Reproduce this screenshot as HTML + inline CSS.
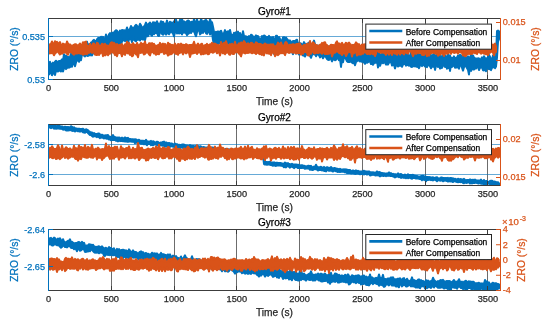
<!DOCTYPE html>
<html><head><meta charset="utf-8"><title>Gyro ZRO</title>
<style>html,body{margin:0;padding:0;background:#fff}svg{display:block}text{font-family:"Liberation Sans",sans-serif;stroke-width:0.25px}.k{fill:#262626;stroke:#262626}.b{fill:#0072BD;stroke:#0072BD}.o{fill:#D95319;stroke:#D95319}.z{fill:#000;stroke:#000}</style></head>
<body>
<svg width="550" height="326" viewBox="0 0 550 326">
<rect width="550" height="326" fill="#fff"/>
<g>
<clipPath id="c1"><rect x="49.0" y="18.5" width="451.0" height="61.0"/></clipPath>
<line x1="111.5" y1="18.5" x2="111.5" y2="79.5" stroke="#6c6c6c" stroke-width="1"/>
<line x1="174.5" y1="18.5" x2="174.5" y2="79.5" stroke="#6c6c6c" stroke-width="1"/>
<line x1="236.5" y1="18.5" x2="236.5" y2="79.5" stroke="#6c6c6c" stroke-width="1"/>
<line x1="299.5" y1="18.5" x2="299.5" y2="79.5" stroke="#6c6c6c" stroke-width="1"/>
<line x1="362.5" y1="18.5" x2="362.5" y2="79.5" stroke="#6c6c6c" stroke-width="1"/>
<line x1="425.5" y1="18.5" x2="425.5" y2="79.5" stroke="#6c6c6c" stroke-width="1"/>
<line x1="487.5" y1="18.5" x2="487.5" y2="79.5" stroke="#6c6c6c" stroke-width="1"/>
<line x1="48.5" y1="36.5" x2="500.5" y2="36.5" stroke="#0072BD" stroke-opacity="0.6" stroke-width="1"/>
<path d="M49.00,67.1 L50.00,61.8 L51.00,64.2 L52.00,65.2 L53.00,62.6 L54.00,65.1 L55.00,61.7 L56.00,60.7 L57.00,61.7 L58.00,62.1 L59.00,60.9 L60.00,61.1 L61.00,60.6 L62.00,59.4 L63.00,60.8 L64.00,54.2 L65.00,59.6 L66.00,55.5 L67.00,57.5 L68.00,56.8 L69.00,57.4 L70.00,56.8 L71.00,53.8 L72.00,54.5 L73.00,53.2 L74.00,52.6 L75.00,53.0 L76.00,52.8 L77.00,51.8 L78.00,50.4 L79.00,50.7 L80.00,46.0 L81.00,50.8 L82.00,46.5 L83.00,47.6 L84.00,43.8 L85.00,46.9 L86.00,45.0 L87.00,41.8 L88.00,46.4 L89.00,44.2 L90.00,45.8 L91.00,42.6 L92.00,42.7 L93.00,40.5 L94.00,39.9 L95.00,40.9 L96.00,42.5 L97.00,39.4 L98.00,38.0 L99.00,38.0 L100.00,38.3 L101.00,36.7 L102.00,39.2 L103.00,36.8 L104.00,39.4 L105.00,39.3 L106.00,34.5 L107.00,37.0 L108.00,38.8 L109.00,34.3 L110.00,33.1 L111.00,36.8 L112.00,32.8 L113.00,32.7 L114.00,32.5 L115.00,31.2 L116.00,30.3 L117.00,30.7 L118.00,32.5 L119.00,33.8 L120.00,30.4 L121.00,33.8 L122.00,29.9 L123.00,30.4 L124.00,30.2 L125.00,30.7 L126.00,30.5 L127.00,27.5 L128.00,31.2 L129.00,29.8 L130.00,28.9 L131.00,26.0 L132.00,28.6 L133.00,27.5 L134.00,29.0 L135.00,26.0 L136.00,24.8 L137.00,25.7 L138.00,28.7 L139.00,26.7 L140.00,23.7 L141.00,25.3 L142.00,28.1 L143.00,27.4 L144.00,26.6 L145.00,25.0 L146.00,22.6 L147.00,26.5 L148.00,24.2 L149.00,23.5 L150.00,22.5 L151.00,25.8 L152.00,24.2 L153.00,22.2 L154.00,22.6 L155.00,22.4 L156.00,24.6 L157.00,21.3 L158.00,23.7 L159.00,24.3 L160.00,23.8 L161.00,21.2 L162.00,23.5 L163.00,21.8 L164.00,23.8 L165.00,24.6 L166.00,23.9 L167.00,20.6 L168.00,24.7 L169.00,24.4 L170.00,21.7 L171.00,22.5 L172.00,22.6 L173.00,23.8 L174.00,21.4 L175.00,22.0 L176.00,19.6 L177.00,23.7 L178.00,22.4 L179.00,23.3 L180.00,19.8 L181.00,22.8 L182.00,19.0 L183.00,22.6 L184.00,21.3 L185.00,22.4 L186.00,22.2 L187.00,21.1 L188.00,20.5 L189.00,20.9 L190.00,23.6 L191.00,21.9 L192.00,21.7 L193.00,23.8 L194.00,19.0 L195.00,24.4 L196.00,22.6 L197.00,19.0 L198.00,23.7 L199.00,21.7 L200.00,23.6 L201.00,19.0 L202.00,20.8 L203.00,22.2 L204.00,21.0 L205.00,20.3 L206.00,19.8 L207.00,21.2 L208.00,22.5 L209.00,24.4 L210.00,19.0 L211.00,22.1 L212.00,22.2 L213.00,26.7 L214.00,32.0 L215.00,32.7 L216.00,31.7 L217.00,32.7 L218.00,31.4 L219.00,33.1 L220.00,31.5 L221.00,30.7 L222.00,33.3 L223.00,34.3 L224.00,33.1 L225.00,30.1 L226.00,33.1 L227.00,32.1 L228.00,31.2 L229.00,32.3 L230.00,30.0 L231.00,34.3 L232.00,35.2 L233.00,35.9 L234.00,32.7 L235.00,35.0 L236.00,32.2 L237.00,34.0 L238.00,31.6 L239.00,36.1 L240.00,33.0 L241.00,35.5 L242.00,36.7 L243.00,31.2 L244.00,36.2 L245.00,36.2 L246.00,36.3 L247.00,37.8 L248.00,36.8 L249.00,36.1 L250.00,37.9 L251.00,34.7 L252.00,35.2 L253.00,37.3 L254.00,36.6 L255.00,37.6 L256.00,35.4 L257.00,36.3 L258.00,36.1 L259.00,38.2 L260.00,38.6 L261.00,39.2 L262.00,36.0 L263.00,39.3 L264.00,35.5 L265.00,36.0 L266.00,40.0 L267.00,36.9 L268.00,37.7 L269.00,35.9 L270.00,38.5 L271.00,37.2 L272.00,39.2 L273.00,37.0 L274.00,40.6 L275.00,39.2 L276.00,35.8 L277.00,35.8 L278.00,40.3 L279.00,37.0 L280.00,39.0 L281.00,41.5 L282.00,40.5 L283.00,37.5 L284.00,37.1 L285.00,41.5 L286.00,37.5 L287.00,39.1 L288.00,40.0 L289.00,40.6 L290.00,40.4 L291.00,42.0 L292.00,43.4 L293.00,41.0 L294.00,41.0 L295.00,41.1 L296.00,40.1 L297.00,39.7 L298.00,43.2 L299.00,43.2 L300.00,43.2 L301.00,43.4 L302.00,45.4 L303.00,44.6 L304.00,42.1 L305.00,44.0 L306.00,44.2 L307.00,44.7 L308.00,43.3 L309.00,42.6 L310.00,42.3 L311.00,45.6 L312.00,45.3 L313.00,43.3 L314.00,40.6 L315.00,44.3 L316.00,46.6 L317.00,45.4 L318.00,45.4 L319.00,47.8 L320.00,49.2 L321.00,46.4 L322.00,48.0 L323.00,45.8 L324.00,47.4 L325.00,45.9 L326.00,46.9 L327.00,49.5 L328.00,46.2 L329.00,47.6 L330.00,47.1 L331.00,45.5 L332.00,47.0 L333.00,46.1 L334.00,47.3 L335.00,47.6 L336.00,49.8 L337.00,46.4 L338.00,47.6 L339.00,49.7 L340.00,49.9 L341.00,49.3 L342.00,49.7 L343.00,49.7 L344.00,48.2 L345.00,50.3 L346.00,48.5 L347.00,50.5 L348.00,49.4 L349.00,49.4 L350.00,52.5 L351.00,47.9 L352.00,50.6 L353.00,45.1 L354.00,51.6 L355.00,53.5 L356.00,46.4 L357.00,50.0 L358.00,52.7 L359.00,49.3 L360.00,48.2 L361.00,54.0 L362.00,52.4 L363.00,52.3 L364.00,52.0 L365.00,53.7 L366.00,51.8 L367.00,54.3 L368.00,50.3 L369.00,52.7 L370.00,50.6 L371.00,52.4 L372.00,53.1 L373.00,51.6 L374.00,53.7 L375.00,51.3 L376.00,55.0 L377.00,48.1 L378.00,51.7 L379.00,53.6 L380.00,54.9 L381.00,54.2 L382.00,54.0 L383.00,50.5 L384.00,52.7 L385.00,53.7 L386.00,52.6 L387.00,52.7 L388.00,52.7 L389.00,51.9 L390.00,52.8 L391.00,53.1 L392.00,51.8 L393.00,49.7 L394.00,50.8 L395.00,55.1 L396.00,54.8 L397.00,53.7 L398.00,52.7 L399.00,55.4 L400.00,53.0 L401.00,52.9 L402.00,58.1 L403.00,53.2 L404.00,54.1 L405.00,54.1 L406.00,51.8 L407.00,56.1 L408.00,54.7 L409.00,57.4 L410.00,55.8 L411.00,52.3 L412.00,55.5 L413.00,53.2 L414.00,54.2 L415.00,54.3 L416.00,54.0 L417.00,56.6 L418.00,50.6 L419.00,54.8 L420.00,55.6 L421.00,54.7 L422.00,55.3 L423.00,53.6 L424.00,50.0 L425.00,55.7 L426.00,56.4 L427.00,56.2 L428.00,55.8 L429.00,55.8 L430.00,53.4 L431.00,55.3 L432.00,58.0 L433.00,54.8 L434.00,53.8 L435.00,57.2 L436.00,57.3 L437.00,52.2 L438.00,55.1 L439.00,57.4 L440.00,54.2 L441.00,56.5 L442.00,56.5 L443.00,55.8 L444.00,53.8 L445.00,55.7 L446.00,56.3 L447.00,58.7 L448.00,54.2 L449.00,55.7 L450.00,55.5 L451.00,58.0 L452.00,58.1 L453.00,58.2 L454.00,56.3 L455.00,59.2 L456.00,57.8 L457.00,57.9 L458.00,55.5 L459.00,56.6 L460.00,54.7 L461.00,57.1 L462.00,55.4 L463.00,58.1 L464.00,52.6 L465.00,54.8 L466.00,59.5 L467.00,57.9 L468.00,56.4 L469.00,57.4 L470.00,57.7 L471.00,54.7 L472.00,58.8 L473.00,55.5 L474.00,57.7 L475.00,58.2 L476.00,58.4 L477.00,59.2 L478.00,58.2 L479.00,58.4 L480.00,59.9 L481.00,59.3 L482.00,57.3 L483.00,60.0 L484.00,56.2 L485.00,58.1 L486.00,59.4 L487.00,58.2 L488.00,57.2 L489.00,54.9 L490.00,56.8 L491.00,59.4 L492.00,59.9 L493.00,55.5 L494.00,57.7 L495.00,56.9 L496.00,56.9 L497.00,31.2 L498.00,30.6 L499.00,31.3 L499.00,39.2 L498.00,41.6 L497.00,57.4 L496.00,66.4 L495.00,68.2 L494.00,65.6 L493.00,67.4 L492.00,67.6 L491.00,70.1 L490.00,67.2 L489.00,69.2 L488.00,67.3 L487.00,67.6 L486.00,71.3 L485.00,68.1 L484.00,70.4 L483.00,70.3 L482.00,67.2 L481.00,67.5 L480.00,67.9 L479.00,70.0 L478.00,67.1 L477.00,66.5 L476.00,68.5 L475.00,68.6 L474.00,69.5 L473.00,69.4 L472.00,67.0 L471.00,70.9 L470.00,64.8 L469.00,74.5 L468.00,69.7 L467.00,68.1 L466.00,66.4 L465.00,63.9 L464.00,67.3 L463.00,70.6 L462.00,67.7 L461.00,65.0 L460.00,64.0 L459.00,68.7 L458.00,66.4 L457.00,67.5 L456.00,67.6 L455.00,67.7 L454.00,65.0 L453.00,65.6 L452.00,67.0 L451.00,65.1 L450.00,70.9 L449.00,64.7 L448.00,68.2 L447.00,68.7 L446.00,65.3 L445.00,66.9 L444.00,64.5 L443.00,65.5 L442.00,67.8 L441.00,68.0 L440.00,68.5 L439.00,62.9 L438.00,67.0 L437.00,63.0 L436.00,66.0 L435.00,69.9 L434.00,63.7 L433.00,66.7 L432.00,66.2 L431.00,68.3 L430.00,66.4 L429.00,64.4 L428.00,65.0 L427.00,67.2 L426.00,65.3 L425.00,66.5 L424.00,64.8 L423.00,65.0 L422.00,66.1 L421.00,63.8 L420.00,65.5 L419.00,68.2 L418.00,66.3 L417.00,67.0 L416.00,64.1 L415.00,66.5 L414.00,65.8 L413.00,66.3 L412.00,66.9 L411.00,66.7 L410.00,64.1 L409.00,65.8 L408.00,65.1 L407.00,64.3 L406.00,65.7 L405.00,62.8 L404.00,64.3 L403.00,64.3 L402.00,66.8 L401.00,61.6 L400.00,66.0 L399.00,64.4 L398.00,66.5 L397.00,64.7 L396.00,65.1 L395.00,68.4 L394.00,64.8 L393.00,64.5 L392.00,65.6 L391.00,61.4 L390.00,62.1 L389.00,62.7 L388.00,64.5 L387.00,64.5 L386.00,64.5 L385.00,62.5 L384.00,62.3 L383.00,63.3 L382.00,62.1 L381.00,63.1 L380.00,65.8 L379.00,64.3 L378.00,67.5 L377.00,60.5 L376.00,62.8 L375.00,62.6 L374.00,63.3 L373.00,64.8 L372.00,63.8 L371.00,64.1 L370.00,61.4 L369.00,61.5 L368.00,62.2 L367.00,62.8 L366.00,61.8 L365.00,63.8 L364.00,62.4 L363.00,59.0 L362.00,61.9 L361.00,60.6 L360.00,61.5 L359.00,60.6 L358.00,60.6 L357.00,61.1 L356.00,61.9 L355.00,65.2 L354.00,61.5 L353.00,63.3 L352.00,62.6 L351.00,60.6 L350.00,61.9 L349.00,62.1 L348.00,62.1 L347.00,61.2 L346.00,59.1 L345.00,57.5 L344.00,57.0 L343.00,62.3 L342.00,59.1 L341.00,66.9 L340.00,58.9 L339.00,60.3 L338.00,58.1 L337.00,58.1 L336.00,59.8 L335.00,60.2 L334.00,59.5 L333.00,59.3 L332.00,61.4 L331.00,59.0 L330.00,56.1 L329.00,60.0 L328.00,59.8 L327.00,58.9 L326.00,57.3 L325.00,55.6 L324.00,56.6 L323.00,58.3 L322.00,55.9 L321.00,56.1 L320.00,57.4 L319.00,55.4 L318.00,53.2 L317.00,54.7 L316.00,56.2 L315.00,53.5 L314.00,54.4 L313.00,53.2 L312.00,55.0 L311.00,57.8 L310.00,56.0 L309.00,52.6 L308.00,54.7 L307.00,54.6 L306.00,54.3 L305.00,56.5 L304.00,55.5 L303.00,55.5 L302.00,50.8 L301.00,52.8 L300.00,51.4 L299.00,54.6 L298.00,52.7 L297.00,51.4 L296.00,53.6 L295.00,51.6 L294.00,50.5 L293.00,54.3 L292.00,52.0 L291.00,50.4 L290.00,52.4 L289.00,52.0 L288.00,50.9 L287.00,50.5 L286.00,48.8 L285.00,51.1 L284.00,52.4 L283.00,48.5 L282.00,52.2 L281.00,50.5 L280.00,53.0 L279.00,51.3 L278.00,51.0 L277.00,47.6 L276.00,49.5 L275.00,46.5 L274.00,53.9 L273.00,46.6 L272.00,48.1 L271.00,45.8 L270.00,47.4 L269.00,49.1 L268.00,46.0 L267.00,46.3 L266.00,48.4 L265.00,48.1 L264.00,47.9 L263.00,48.8 L262.00,47.4 L261.00,45.8 L260.00,49.0 L259.00,49.3 L258.00,48.2 L257.00,45.5 L256.00,47.3 L255.00,46.3 L254.00,47.0 L253.00,45.9 L252.00,44.7 L251.00,45.0 L250.00,48.5 L249.00,48.5 L248.00,46.4 L247.00,47.3 L246.00,43.8 L245.00,48.1 L244.00,46.9 L243.00,46.1 L242.00,50.0 L241.00,46.5 L240.00,46.1 L239.00,45.4 L238.00,46.5 L237.00,45.5 L236.00,41.3 L235.00,45.2 L234.00,45.7 L233.00,42.9 L232.00,45.2 L231.00,43.3 L230.00,46.4 L229.00,43.8 L228.00,43.6 L227.00,42.5 L226.00,46.6 L225.00,43.1 L224.00,43.4 L223.00,43.5 L222.00,42.8 L221.00,41.4 L220.00,42.1 L219.00,43.7 L218.00,44.0 L217.00,40.2 L216.00,46.9 L215.00,41.6 L214.00,44.9 L213.00,40.0 L212.00,32.5 L211.00,32.1 L210.00,34.5 L209.00,31.7 L208.00,30.4 L207.00,33.9 L206.00,33.1 L205.00,30.9 L204.00,30.2 L203.00,32.9 L202.00,32.5 L201.00,33.3 L200.00,34.4 L199.00,29.5 L198.00,29.7 L197.00,32.2 L196.00,36.3 L195.00,34.0 L194.00,30.9 L193.00,31.5 L192.00,30.9 L191.00,33.0 L190.00,31.7 L189.00,33.3 L188.00,33.8 L187.00,35.1 L186.00,33.2 L185.00,31.5 L184.00,32.8 L183.00,31.5 L182.00,34.4 L181.00,30.8 L180.00,33.2 L179.00,33.4 L178.00,32.8 L177.00,33.4 L176.00,31.3 L175.00,32.6 L174.00,36.3 L173.00,33.5 L172.00,32.3 L171.00,31.1 L170.00,32.4 L169.00,34.2 L168.00,33.4 L167.00,32.3 L166.00,34.6 L165.00,33.4 L164.00,32.9 L163.00,34.7 L162.00,33.9 L161.00,31.4 L160.00,32.3 L159.00,36.0 L158.00,35.6 L157.00,31.2 L156.00,33.2 L155.00,32.4 L154.00,34.2 L153.00,31.7 L152.00,35.7 L151.00,34.8 L150.00,33.1 L149.00,34.0 L148.00,36.2 L147.00,36.2 L146.00,35.8 L145.00,40.2 L144.00,37.1 L143.00,39.6 L142.00,39.1 L141.00,38.6 L140.00,40.5 L139.00,37.5 L138.00,39.9 L137.00,38.8 L136.00,41.4 L135.00,40.7 L134.00,39.8 L133.00,36.2 L132.00,42.1 L131.00,38.8 L130.00,39.3 L129.00,39.1 L128.00,43.7 L127.00,41.2 L126.00,39.5 L125.00,41.1 L124.00,40.2 L123.00,39.6 L122.00,41.7 L121.00,44.0 L120.00,44.8 L119.00,41.3 L118.00,44.8 L117.00,44.3 L116.00,43.9 L115.00,42.1 L114.00,46.2 L113.00,44.3 L112.00,45.3 L111.00,46.2 L110.00,43.3 L109.00,47.5 L108.00,44.1 L107.00,45.0 L106.00,45.9 L105.00,49.6 L104.00,48.7 L103.00,50.3 L102.00,47.3 L101.00,46.0 L100.00,51.3 L99.00,48.0 L98.00,49.2 L97.00,50.4 L96.00,53.2 L95.00,52.5 L94.00,53.2 L93.00,52.9 L92.00,55.5 L91.00,49.7 L90.00,55.4 L89.00,52.3 L88.00,55.9 L87.00,55.7 L86.00,54.0 L85.00,56.5 L84.00,55.7 L83.00,54.5 L82.00,54.3 L81.00,60.2 L80.00,59.1 L79.00,61.8 L78.00,60.1 L77.00,60.2 L76.00,62.4 L75.00,66.2 L74.00,62.7 L73.00,62.9 L72.00,66.8 L71.00,65.9 L70.00,67.1 L69.00,67.7 L68.00,67.0 L67.00,68.1 L66.00,69.1 L65.00,67.4 L64.00,68.1 L63.00,71.5 L62.00,68.4 L61.00,71.5 L60.00,70.4 L59.00,70.7 L58.00,71.5 L57.00,71.2 L56.00,70.6 L55.00,75.0 L54.00,72.1 L53.00,73.1 L52.00,75.2 L51.00,73.1 L50.00,70.6 L49.00,74.4Z" fill="#0072BD" stroke="#0072BD" stroke-width="2" stroke-linejoin="round" clip-path="url(#c1)"/>
<path d="M49.00,44.4 L50.00,44.8 L51.00,43.8 L52.00,41.5 L53.00,44.1 L54.00,44.0 L55.00,41.2 L56.00,42.5 L57.00,41.9 L58.00,43.2 L59.00,43.9 L60.00,42.1 L61.00,44.8 L62.00,46.9 L63.00,43.6 L64.00,44.3 L65.00,44.3 L66.00,45.5 L67.00,41.5 L68.00,43.6 L69.00,45.0 L70.00,44.4 L71.00,46.1 L72.00,45.4 L73.00,46.1 L74.00,44.6 L75.00,44.3 L76.00,44.3 L77.00,45.0 L78.00,47.4 L79.00,44.6 L80.00,43.5 L81.00,46.5 L82.00,44.8 L83.00,42.2 L84.00,43.6 L85.00,42.0 L86.00,41.6 L87.00,46.3 L88.00,45.8 L89.00,47.2 L90.00,43.8 L91.00,47.2 L92.00,46.4 L93.00,43.6 L94.00,43.5 L95.00,45.6 L96.00,46.4 L97.00,42.7 L98.00,43.4 L99.00,45.8 L100.00,45.8 L101.00,45.7 L102.00,43.7 L103.00,44.6 L104.00,44.6 L105.00,43.9 L106.00,46.2 L107.00,45.4 L108.00,45.7 L109.00,46.4 L110.00,44.4 L111.00,42.6 L112.00,42.3 L113.00,45.0 L114.00,42.9 L115.00,44.4 L116.00,44.7 L117.00,44.1 L118.00,45.7 L119.00,45.1 L120.00,44.8 L121.00,44.8 L122.00,44.0 L123.00,46.3 L124.00,48.0 L125.00,44.3 L126.00,45.0 L127.00,41.8 L128.00,45.5 L129.00,42.9 L130.00,44.7 L131.00,45.6 L132.00,44.3 L133.00,43.1 L134.00,44.6 L135.00,44.9 L136.00,45.8 L137.00,43.0 L138.00,45.2 L139.00,45.3 L140.00,44.6 L141.00,42.9 L142.00,44.5 L143.00,43.7 L144.00,44.5 L145.00,41.5 L146.00,46.4 L147.00,44.9 L148.00,45.6 L149.00,43.3 L150.00,43.2 L151.00,44.3 L152.00,43.0 L153.00,44.4 L154.00,43.8 L155.00,46.1 L156.00,45.6 L157.00,46.9 L158.00,45.0 L159.00,45.3 L160.00,42.9 L161.00,45.5 L162.00,44.4 L163.00,43.6 L164.00,46.2 L165.00,43.8 L166.00,47.2 L167.00,45.7 L168.00,42.7 L169.00,44.0 L170.00,44.1 L171.00,46.4 L172.00,44.8 L173.00,45.8 L174.00,45.3 L175.00,43.6 L176.00,47.3 L177.00,45.8 L178.00,44.1 L179.00,44.2 L180.00,45.5 L181.00,43.6 L182.00,44.8 L183.00,44.8 L184.00,44.9 L185.00,45.2 L186.00,44.1 L187.00,44.6 L188.00,47.1 L189.00,45.0 L190.00,45.0 L191.00,45.4 L192.00,44.7 L193.00,44.7 L194.00,41.7 L195.00,45.2 L196.00,45.6 L197.00,45.0 L198.00,43.5 L199.00,45.3 L200.00,46.7 L201.00,44.2 L202.00,43.7 L203.00,45.9 L204.00,47.0 L205.00,45.1 L206.00,45.4 L207.00,43.8 L208.00,46.0 L209.00,45.0 L210.00,44.3 L211.00,44.6 L212.00,42.7 L213.00,46.1 L214.00,43.5 L215.00,43.8 L216.00,44.2 L217.00,46.4 L218.00,44.9 L219.00,45.7 L220.00,47.1 L221.00,41.9 L222.00,46.1 L223.00,44.2 L224.00,42.7 L225.00,46.1 L226.00,41.2 L227.00,44.3 L228.00,45.2 L229.00,45.9 L230.00,44.1 L231.00,45.4 L232.00,43.7 L233.00,45.2 L234.00,45.7 L235.00,41.8 L236.00,46.2 L237.00,45.6 L238.00,44.8 L239.00,43.2 L240.00,45.3 L241.00,42.4 L242.00,42.4 L243.00,45.4 L244.00,41.1 L245.00,42.6 L246.00,45.4 L247.00,43.9 L248.00,43.3 L249.00,44.1 L250.00,46.2 L251.00,42.7 L252.00,42.9 L253.00,44.2 L254.00,45.0 L255.00,44.5 L256.00,42.4 L257.00,42.9 L258.00,44.6 L259.00,44.0 L260.00,43.9 L261.00,44.3 L262.00,44.9 L263.00,45.6 L264.00,44.4 L265.00,43.5 L266.00,44.5 L267.00,44.4 L268.00,46.6 L269.00,44.6 L270.00,45.2 L271.00,44.2 L272.00,46.8 L273.00,44.2 L274.00,46.3 L275.00,46.3 L276.00,46.3 L277.00,45.3 L278.00,42.6 L279.00,43.6 L280.00,46.0 L281.00,42.4 L282.00,45.3 L283.00,46.0 L284.00,46.0 L285.00,43.2 L286.00,42.0 L287.00,43.4 L288.00,46.3 L289.00,45.2 L290.00,44.7 L291.00,44.7 L292.00,44.7 L293.00,44.3 L294.00,44.5 L295.00,46.1 L296.00,44.3 L297.00,44.1 L298.00,43.9 L299.00,43.5 L300.00,43.8 L301.00,46.0 L302.00,46.6 L303.00,46.0 L304.00,44.9 L305.00,44.8 L306.00,47.3 L307.00,43.7 L308.00,46.0 L309.00,44.6 L310.00,40.9 L311.00,47.5 L312.00,43.8 L313.00,42.3 L314.00,43.3 L315.00,44.7 L316.00,45.1 L317.00,45.3 L318.00,46.5 L319.00,45.6 L320.00,44.7 L321.00,44.6 L322.00,42.9 L323.00,44.1 L324.00,42.5 L325.00,42.2 L326.00,44.8 L327.00,44.9 L328.00,46.7 L329.00,46.4 L330.00,45.8 L331.00,44.7 L332.00,45.0 L333.00,45.0 L334.00,45.3 L335.00,45.3 L336.00,42.7 L337.00,41.4 L338.00,45.0 L339.00,43.4 L340.00,47.1 L341.00,44.0 L342.00,42.8 L343.00,44.5 L344.00,46.4 L345.00,44.1 L346.00,42.7 L347.00,43.5 L348.00,43.9 L349.00,42.6 L350.00,43.9 L351.00,44.8 L352.00,46.0 L353.00,44.8 L354.00,46.1 L355.00,44.2 L356.00,42.4 L357.00,43.4 L358.00,45.9 L359.00,44.1 L360.00,46.4 L361.00,46.3 L362.00,44.6 L363.00,45.7 L364.00,44.2 L365.00,45.0 L366.00,43.9 L367.00,47.5 L368.00,44.9 L369.00,45.0 L370.00,45.3 L371.00,44.5 L372.00,46.6 L373.00,45.0 L374.00,42.8 L375.00,43.2 L376.00,45.5 L377.00,42.4 L378.00,45.6 L379.00,45.2 L380.00,46.1 L381.00,45.0 L382.00,45.7 L383.00,44.1 L384.00,42.7 L385.00,43.4 L386.00,44.7 L387.00,45.2 L388.00,42.9 L389.00,44.9 L390.00,43.6 L391.00,45.0 L392.00,46.3 L393.00,42.1 L394.00,46.0 L395.00,45.2 L396.00,43.1 L397.00,46.2 L398.00,46.5 L399.00,42.2 L400.00,46.1 L401.00,42.6 L402.00,46.4 L403.00,43.5 L404.00,45.8 L405.00,45.8 L406.00,45.1 L407.00,45.3 L408.00,46.4 L409.00,45.0 L410.00,44.0 L411.00,45.6 L412.00,43.9 L413.00,43.6 L414.00,44.5 L415.00,43.2 L416.00,45.6 L417.00,46.5 L418.00,45.3 L419.00,42.8 L420.00,43.8 L421.00,44.6 L422.00,46.6 L423.00,44.0 L424.00,44.3 L425.00,42.2 L426.00,43.0 L427.00,46.5 L428.00,45.4 L429.00,45.5 L430.00,45.4 L431.00,43.4 L432.00,46.2 L433.00,43.8 L434.00,44.8 L435.00,43.9 L436.00,45.9 L437.00,44.4 L438.00,46.0 L439.00,42.3 L440.00,42.1 L441.00,45.4 L442.00,44.8 L443.00,44.5 L444.00,44.9 L445.00,41.5 L446.00,44.4 L447.00,44.8 L448.00,44.7 L449.00,44.5 L450.00,45.3 L451.00,45.7 L452.00,45.2 L453.00,43.8 L454.00,45.5 L455.00,45.9 L456.00,48.0 L457.00,43.4 L458.00,44.2 L459.00,45.4 L460.00,43.4 L461.00,41.7 L462.00,42.8 L463.00,43.8 L464.00,43.1 L465.00,45.3 L466.00,46.3 L467.00,46.0 L468.00,44.2 L469.00,45.3 L470.00,43.5 L471.00,45.4 L472.00,45.4 L473.00,43.3 L474.00,45.0 L475.00,41.0 L476.00,46.7 L477.00,42.7 L478.00,45.2 L479.00,45.8 L480.00,45.6 L481.00,45.9 L482.00,44.6 L483.00,44.1 L484.00,43.3 L485.00,42.8 L486.00,43.4 L487.00,41.7 L488.00,45.3 L489.00,42.2 L490.00,44.2 L491.00,42.0 L492.00,46.8 L493.00,44.7 L494.00,44.7 L495.00,43.6 L496.00,46.3 L496.00,52.0 L495.00,51.9 L494.00,55.4 L493.00,52.6 L492.00,52.0 L491.00,51.2 L490.00,52.8 L489.00,53.1 L488.00,55.0 L487.00,52.4 L486.00,54.4 L485.00,53.3 L484.00,53.7 L483.00,53.1 L482.00,52.0 L481.00,53.6 L480.00,52.6 L479.00,51.8 L478.00,51.8 L477.00,54.0 L476.00,53.3 L475.00,53.2 L474.00,51.2 L473.00,52.9 L472.00,54.0 L471.00,53.3 L470.00,54.1 L469.00,51.2 L468.00,54.2 L467.00,53.3 L466.00,55.9 L465.00,56.2 L464.00,52.5 L463.00,55.5 L462.00,52.8 L461.00,52.5 L460.00,51.9 L459.00,52.2 L458.00,53.6 L457.00,52.5 L456.00,51.9 L455.00,52.8 L454.00,52.9 L453.00,51.7 L452.00,52.0 L451.00,53.8 L450.00,52.5 L449.00,51.8 L448.00,53.6 L447.00,53.7 L446.00,53.5 L445.00,53.6 L444.00,55.9 L443.00,54.1 L442.00,53.8 L441.00,53.0 L440.00,54.8 L439.00,54.6 L438.00,55.8 L437.00,51.8 L436.00,53.8 L435.00,53.3 L434.00,52.2 L433.00,52.9 L432.00,52.4 L431.00,53.3 L430.00,53.5 L429.00,55.7 L428.00,54.9 L427.00,56.2 L426.00,53.2 L425.00,51.0 L424.00,55.1 L423.00,55.0 L422.00,54.7 L421.00,51.3 L420.00,53.0 L419.00,51.6 L418.00,53.1 L417.00,50.9 L416.00,53.9 L415.00,51.9 L414.00,53.9 L413.00,56.1 L412.00,53.4 L411.00,51.8 L410.00,50.9 L409.00,51.6 L408.00,53.6 L407.00,53.3 L406.00,52.6 L405.00,51.1 L404.00,54.4 L403.00,53.2 L402.00,53.2 L401.00,52.6 L400.00,54.6 L399.00,52.1 L398.00,52.3 L397.00,54.8 L396.00,51.8 L395.00,53.7 L394.00,52.0 L393.00,52.2 L392.00,55.0 L391.00,52.1 L390.00,52.5 L389.00,54.7 L388.00,50.7 L387.00,53.0 L386.00,54.8 L385.00,53.5 L384.00,52.5 L383.00,52.8 L382.00,51.8 L381.00,52.9 L380.00,52.2 L379.00,52.2 L378.00,50.7 L377.00,49.3 L376.00,53.6 L375.00,56.0 L374.00,53.3 L373.00,54.3 L372.00,53.5 L371.00,53.6 L370.00,54.2 L369.00,53.2 L368.00,53.9 L367.00,54.0 L366.00,52.7 L365.00,52.1 L364.00,51.8 L363.00,53.8 L362.00,52.6 L361.00,54.5 L360.00,54.4 L359.00,54.6 L358.00,54.5 L357.00,55.5 L356.00,51.4 L355.00,51.7 L354.00,53.2 L353.00,52.2 L352.00,56.6 L351.00,51.2 L350.00,52.2 L349.00,51.5 L348.00,52.2 L347.00,53.9 L346.00,56.0 L345.00,53.1 L344.00,53.2 L343.00,52.8 L342.00,55.0 L341.00,53.3 L340.00,53.4 L339.00,52.8 L338.00,51.6 L337.00,51.5 L336.00,51.1 L335.00,52.7 L334.00,52.7 L333.00,53.6 L332.00,56.4 L331.00,50.2 L330.00,52.8 L329.00,53.7 L328.00,53.4 L327.00,54.1 L326.00,53.6 L325.00,54.0 L324.00,51.6 L323.00,52.5 L322.00,53.8 L321.00,52.8 L320.00,52.3 L319.00,52.6 L318.00,53.1 L317.00,52.4 L316.00,52.9 L315.00,53.5 L314.00,53.2 L313.00,51.5 L312.00,50.4 L311.00,53.7 L310.00,52.3 L309.00,55.4 L308.00,55.4 L307.00,52.8 L306.00,52.0 L305.00,51.9 L304.00,51.0 L303.00,53.8 L302.00,52.9 L301.00,54.7 L300.00,52.0 L299.00,53.0 L298.00,53.3 L297.00,52.1 L296.00,53.5 L295.00,52.4 L294.00,52.5 L293.00,52.9 L292.00,51.6 L291.00,52.2 L290.00,52.1 L289.00,53.0 L288.00,52.3 L287.00,52.3 L286.00,52.1 L285.00,55.1 L284.00,52.6 L283.00,53.2 L282.00,52.9 L281.00,53.3 L280.00,52.9 L279.00,54.0 L278.00,55.1 L277.00,54.5 L276.00,54.6 L275.00,56.2 L274.00,52.2 L273.00,52.7 L272.00,51.8 L271.00,55.2 L270.00,52.7 L269.00,53.8 L268.00,51.7 L267.00,53.5 L266.00,52.5 L265.00,51.0 L264.00,55.4 L263.00,52.5 L262.00,55.0 L261.00,51.8 L260.00,54.3 L259.00,53.6 L258.00,52.9 L257.00,52.2 L256.00,53.9 L255.00,53.0 L254.00,52.5 L253.00,52.7 L252.00,53.3 L251.00,52.4 L250.00,52.6 L249.00,52.2 L248.00,53.1 L247.00,52.5 L246.00,53.1 L245.00,53.5 L244.00,52.2 L243.00,52.8 L242.00,53.0 L241.00,56.4 L240.00,54.5 L239.00,53.7 L238.00,52.4 L237.00,52.1 L236.00,51.1 L235.00,52.4 L234.00,54.0 L233.00,54.1 L232.00,52.9 L231.00,53.5 L230.00,54.8 L229.00,54.3 L228.00,51.2 L227.00,52.7 L226.00,52.5 L225.00,54.1 L224.00,51.1 L223.00,53.4 L222.00,51.9 L221.00,51.5 L220.00,55.6 L219.00,51.6 L218.00,52.4 L217.00,53.3 L216.00,51.4 L215.00,50.9 L214.00,52.1 L213.00,52.8 L212.00,52.2 L211.00,52.1 L210.00,52.1 L209.00,54.1 L208.00,54.3 L207.00,53.1 L206.00,53.4 L205.00,53.2 L204.00,53.9 L203.00,54.2 L202.00,52.9 L201.00,54.5 L200.00,51.4 L199.00,52.4 L198.00,52.2 L197.00,53.9 L196.00,52.3 L195.00,52.7 L194.00,52.9 L193.00,53.4 L192.00,53.5 L191.00,53.4 L190.00,57.1 L189.00,52.9 L188.00,51.9 L187.00,52.7 L186.00,53.4 L185.00,51.9 L184.00,52.1 L183.00,54.4 L182.00,52.3 L181.00,51.6 L180.00,52.9 L179.00,52.1 L178.00,54.8 L177.00,52.4 L176.00,53.9 L175.00,52.8 L174.00,52.0 L173.00,52.5 L172.00,53.6 L171.00,54.3 L170.00,53.9 L169.00,54.7 L168.00,55.6 L167.00,53.2 L166.00,53.2 L165.00,53.2 L164.00,54.0 L163.00,51.2 L162.00,51.8 L161.00,52.2 L160.00,51.2 L159.00,54.2 L158.00,54.1 L157.00,53.9 L156.00,54.8 L155.00,52.5 L154.00,53.5 L153.00,51.6 L152.00,52.3 L151.00,52.0 L150.00,55.4 L149.00,54.3 L148.00,52.6 L147.00,52.4 L146.00,52.5 L145.00,53.9 L144.00,54.5 L143.00,52.8 L142.00,51.7 L141.00,52.9 L140.00,52.7 L139.00,52.1 L138.00,57.2 L137.00,54.3 L136.00,54.4 L135.00,52.5 L134.00,51.7 L133.00,55.7 L132.00,56.3 L131.00,53.5 L130.00,55.0 L129.00,52.5 L128.00,53.4 L127.00,52.8 L126.00,51.9 L125.00,54.9 L124.00,53.8 L123.00,52.1 L122.00,56.3 L121.00,53.5 L120.00,53.0 L119.00,52.9 L118.00,52.7 L117.00,56.3 L116.00,52.5 L115.00,55.1 L114.00,52.6 L113.00,52.7 L112.00,52.1 L111.00,50.7 L110.00,53.8 L109.00,53.3 L108.00,55.3 L107.00,52.1 L106.00,54.7 L105.00,55.4 L104.00,54.3 L103.00,56.1 L102.00,51.6 L101.00,52.6 L100.00,53.4 L99.00,54.9 L98.00,54.1 L97.00,55.1 L96.00,54.9 L95.00,54.6 L94.00,52.0 L93.00,52.5 L92.00,52.9 L91.00,51.8 L90.00,51.5 L89.00,53.0 L88.00,52.2 L87.00,54.1 L86.00,51.3 L85.00,54.3 L84.00,53.1 L83.00,54.8 L82.00,53.3 L81.00,53.8 L80.00,53.5 L79.00,52.7 L78.00,53.3 L77.00,53.6 L76.00,53.5 L75.00,53.3 L74.00,54.7 L73.00,54.0 L72.00,52.9 L71.00,51.9 L70.00,52.2 L69.00,52.0 L68.00,54.7 L67.00,53.7 L66.00,52.3 L65.00,52.6 L64.00,52.4 L63.00,52.8 L62.00,53.8 L61.00,51.1 L60.00,54.6 L59.00,53.1 L58.00,52.0 L57.00,50.6 L56.00,52.6 L55.00,53.4 L54.00,55.2 L53.00,53.2 L52.00,52.8 L51.00,53.3 L50.00,53.0 L49.00,53.5Z" fill="#D95319" stroke="#D95319" stroke-width="2" stroke-linejoin="round" clip-path="url(#c1)"/>
<line x1="48.0" y1="18.5" x2="501.0" y2="18.5" stroke="#3c3c3c" stroke-width="1"/>
<line x1="48.0" y1="79.5" x2="501.0" y2="79.5" stroke="#3c3c3c" stroke-width="1"/>
<text x="48.5" y="91.3" font-size="9.2" text-anchor="middle" class="k">0</text>
<line x1="111.5" y1="79.5" x2="111.5" y2="75.0" stroke="#3c3c3c" stroke-width="1"/>
<line x1="111.5" y1="18.5" x2="111.5" y2="23.0" stroke="#3c3c3c" stroke-width="1"/>
<text x="111.3" y="91.3" font-size="9.2" text-anchor="middle" class="k">500</text>
<line x1="174.5" y1="79.5" x2="174.5" y2="75.0" stroke="#3c3c3c" stroke-width="1"/>
<line x1="174.5" y1="18.5" x2="174.5" y2="23.0" stroke="#3c3c3c" stroke-width="1"/>
<text x="174.1" y="91.3" font-size="9.2" text-anchor="middle" class="k">1000</text>
<line x1="236.5" y1="79.5" x2="236.5" y2="75.0" stroke="#3c3c3c" stroke-width="1"/>
<line x1="236.5" y1="18.5" x2="236.5" y2="23.0" stroke="#3c3c3c" stroke-width="1"/>
<text x="236.8" y="91.3" font-size="9.2" text-anchor="middle" class="k">1500</text>
<line x1="299.5" y1="79.5" x2="299.5" y2="75.0" stroke="#3c3c3c" stroke-width="1"/>
<line x1="299.5" y1="18.5" x2="299.5" y2="23.0" stroke="#3c3c3c" stroke-width="1"/>
<text x="299.6" y="91.3" font-size="9.2" text-anchor="middle" class="k">2000</text>
<line x1="362.5" y1="79.5" x2="362.5" y2="75.0" stroke="#3c3c3c" stroke-width="1"/>
<line x1="362.5" y1="18.5" x2="362.5" y2="23.0" stroke="#3c3c3c" stroke-width="1"/>
<text x="362.4" y="91.3" font-size="9.2" text-anchor="middle" class="k">2500</text>
<line x1="425.5" y1="79.5" x2="425.5" y2="75.0" stroke="#3c3c3c" stroke-width="1"/>
<line x1="425.5" y1="18.5" x2="425.5" y2="23.0" stroke="#3c3c3c" stroke-width="1"/>
<text x="425.2" y="91.3" font-size="9.2" text-anchor="middle" class="k">3000</text>
<line x1="487.5" y1="79.5" x2="487.5" y2="75.0" stroke="#3c3c3c" stroke-width="1"/>
<line x1="487.5" y1="18.5" x2="487.5" y2="23.0" stroke="#3c3c3c" stroke-width="1"/>
<text x="487.9" y="91.3" font-size="9.2" text-anchor="middle" class="k">3500</text>
<line x1="48.5" y1="18.0" x2="48.5" y2="80.0" stroke="#0072BD" stroke-width="1"/>
<line x1="500.5" y1="18.0" x2="500.5" y2="80.0" stroke="#D95319" stroke-width="1"/>
<line x1="48.5" y1="36.5" x2="53.0" y2="36.5" stroke="#0072BD" stroke-width="1"/>
<text x="45.0" y="39.5" font-size="9.15" text-anchor="end" class="b">0.535</text>
<line x1="48.5" y1="79.5" x2="53.0" y2="79.5" stroke="#0072BD" stroke-width="1"/>
<text x="45.0" y="82.5" font-size="9.15" text-anchor="end" class="b">0.53</text>
<line x1="500.5" y1="22.5" x2="496.0" y2="22.5" stroke="#D95319" stroke-width="1"/>
<text x="502.8" y="25.3" font-size="9.15" class="o">0.015</text>
<line x1="500.5" y1="60.5" x2="496.0" y2="60.5" stroke="#D95319" stroke-width="1"/>
<text x="502.8" y="63.3" font-size="9.15" class="o">0.01</text>
<text transform="translate(17.5,49.0) rotate(-90)" font-size="10.3" text-anchor="middle" class="b">ZRO (°/s)</text>
<text transform="translate(538.9,49.0) rotate(-90)" font-size="10.3" text-anchor="middle" class="o">ZRO (°/s)</text>
<text x="274.5" y="14.7" font-size="10" text-anchor="middle" class="z">Gyro#1</text>
<text x="274.5" y="105.2" font-size="10.2" text-anchor="middle" class="k">Time (s)</text>
<rect x="365.8" y="24.1" width="125.7" height="25.1" fill="#fff" stroke="#262626" stroke-width="1"/>
<line x1="369.3" y1="31.0" x2="402.3" y2="31.0" stroke="#0072BD" stroke-width="2.6"/>
<line x1="369.3" y1="42.5" x2="402.3" y2="42.5" stroke="#D95319" stroke-width="2.6"/>
<text x="405.7" y="34.8" font-size="8.45" class="z">Before Compensation</text>
<text x="405.7" y="45.900000000000006" font-size="8.45" class="z">After Compensation</text>
</g>
<g>
<clipPath id="c2"><rect x="49.0" y="124.5" width="451.0" height="61.0"/></clipPath>
<line x1="111.5" y1="124.5" x2="111.5" y2="185.5" stroke="#6c6c6c" stroke-width="1"/>
<line x1="174.5" y1="124.5" x2="174.5" y2="185.5" stroke="#6c6c6c" stroke-width="1"/>
<line x1="236.5" y1="124.5" x2="236.5" y2="185.5" stroke="#6c6c6c" stroke-width="1"/>
<line x1="299.5" y1="124.5" x2="299.5" y2="185.5" stroke="#6c6c6c" stroke-width="1"/>
<line x1="362.5" y1="124.5" x2="362.5" y2="185.5" stroke="#6c6c6c" stroke-width="1"/>
<line x1="425.5" y1="124.5" x2="425.5" y2="185.5" stroke="#6c6c6c" stroke-width="1"/>
<line x1="487.5" y1="124.5" x2="487.5" y2="185.5" stroke="#6c6c6c" stroke-width="1"/>
<line x1="48.5" y1="144.5" x2="500.5" y2="144.5" stroke="#0072BD" stroke-opacity="0.6" stroke-width="1"/>
<line x1="48.5" y1="174.5" x2="500.5" y2="174.5" stroke="#0072BD" stroke-opacity="0.6" stroke-width="1"/>
<path d="M49.00,125.0 L50.00,125.2 L51.00,125.5 L52.00,125.8 L53.00,125.5 L54.00,125.0 L55.00,125.1 L56.00,125.9 L57.00,126.3 L58.00,125.4 L59.00,125.0 L60.00,126.4 L61.00,126.5 L62.00,126.4 L63.00,126.9 L64.00,127.2 L65.00,126.7 L66.00,126.9 L67.00,127.6 L68.00,126.9 L69.00,127.5 L70.00,127.1 L71.00,126.2 L72.00,126.8 L73.00,127.8 L74.00,127.3 L75.00,128.1 L76.00,128.6 L77.00,128.5 L78.00,129.3 L79.00,128.6 L80.00,129.1 L81.00,128.9 L82.00,129.0 L83.00,128.7 L84.00,129.6 L85.00,130.0 L86.00,129.2 L87.00,129.8 L88.00,130.1 L89.00,131.4 L90.00,131.9 L91.00,132.3 L92.00,132.4 L93.00,133.4 L94.00,133.1 L95.00,133.9 L96.00,134.0 L97.00,134.2 L98.00,133.6 L99.00,133.4 L100.00,134.5 L101.00,134.9 L102.00,134.8 L103.00,135.2 L104.00,135.4 L105.00,135.5 L106.00,135.2 L107.00,135.5 L108.00,135.0 L109.00,136.6 L110.00,136.8 L111.00,137.0 L112.00,136.6 L113.00,135.0 L114.00,136.9 L115.00,137.1 L116.00,138.0 L117.00,137.5 L118.00,137.9 L119.00,137.5 L120.00,138.0 L121.00,139.0 L122.00,137.6 L123.00,138.7 L124.00,138.0 L125.00,137.4 L126.00,138.0 L127.00,138.5 L128.00,137.8 L129.00,139.1 L130.00,138.9 L131.00,139.3 L132.00,139.3 L133.00,139.3 L134.00,139.4 L135.00,139.3 L136.00,139.5 L137.00,140.0 L138.00,140.2 L139.00,139.8 L140.00,140.7 L141.00,140.7 L142.00,140.7 L143.00,140.7 L144.00,140.9 L145.00,141.2 L146.00,139.9 L147.00,141.4 L148.00,141.4 L149.00,142.0 L150.00,141.3 L151.00,140.8 L152.00,141.9 L153.00,141.2 L154.00,141.7 L155.00,142.5 L156.00,142.2 L157.00,141.7 L158.00,142.0 L159.00,142.9 L160.00,142.7 L161.00,142.4 L162.00,142.7 L163.00,141.9 L164.00,141.6 L165.00,143.6 L166.00,142.3 L167.00,142.8 L168.00,143.3 L169.00,142.9 L170.00,143.6 L171.00,143.5 L172.00,143.5 L173.00,144.2 L174.00,144.3 L175.00,143.6 L176.00,144.5 L177.00,144.1 L178.00,145.2 L179.00,144.7 L180.00,144.9 L181.00,145.3 L182.00,144.5 L183.00,144.4 L184.00,144.6 L185.00,145.1 L186.00,145.7 L187.00,145.4 L188.00,145.9 L189.00,145.6 L190.00,145.1 L191.00,145.6 L192.00,146.0 L193.00,146.0 L194.00,146.1 L195.00,146.4 L196.00,146.0 L197.00,145.6 L198.00,146.0 L199.00,146.9 L200.00,146.2 L201.00,146.5 L202.00,147.2 L203.00,147.3 L204.00,147.0 L205.00,147.6 L206.00,147.8 L207.00,147.6 L208.00,147.5 L209.00,147.5 L210.00,148.4 L211.00,147.8 L212.00,147.5 L213.00,147.5 L214.00,148.5 L215.00,148.2 L216.00,148.6 L217.00,148.6 L218.00,148.7 L219.00,148.9 L220.00,148.9 L221.00,148.9 L222.00,148.8 L223.00,148.8 L224.00,149.9 L225.00,149.4 L226.00,148.8 L227.00,149.5 L228.00,149.3 L229.00,149.6 L230.00,149.5 L231.00,150.2 L232.00,149.6 L233.00,149.4 L234.00,150.4 L235.00,150.0 L236.00,150.7 L237.00,150.6 L238.00,150.5 L239.00,149.7 L240.00,150.5 L241.00,150.7 L242.00,151.2 L243.00,151.2 L244.00,150.6 L245.00,151.0 L246.00,150.0 L247.00,151.8 L248.00,150.9 L249.00,150.9 L250.00,152.1 L251.00,151.1 L252.00,151.9 L253.00,151.4 L254.00,152.0 L255.00,152.4 L256.00,151.9 L257.00,151.6 L258.00,152.0 L259.00,151.1 L260.00,152.6 L261.00,152.0 L262.00,152.0 L263.00,153.3 L264.00,154.7 L265.00,162.1 L266.00,162.1 L267.00,162.1 L268.00,162.2 L269.00,161.9 L270.00,161.7 L271.00,162.8 L272.00,162.4 L273.00,162.9 L274.00,162.3 L275.00,163.2 L276.00,162.8 L277.00,162.7 L278.00,163.0 L279.00,163.1 L280.00,162.9 L281.00,163.1 L282.00,163.4 L283.00,163.7 L284.00,163.6 L285.00,162.5 L286.00,163.1 L287.00,163.8 L288.00,163.1 L289.00,164.4 L290.00,164.0 L291.00,164.7 L292.00,163.7 L293.00,164.5 L294.00,164.5 L295.00,164.6 L296.00,164.5 L297.00,164.8 L298.00,164.8 L299.00,165.0 L300.00,165.7 L301.00,165.3 L302.00,165.2 L303.00,165.5 L304.00,165.7 L305.00,166.2 L306.00,166.2 L307.00,166.7 L308.00,165.7 L309.00,165.8 L310.00,166.3 L311.00,165.8 L312.00,167.1 L313.00,167.3 L314.00,166.6 L315.00,167.3 L316.00,164.7 L317.00,166.6 L318.00,167.3 L319.00,167.3 L320.00,167.2 L321.00,166.8 L322.00,167.4 L323.00,167.9 L324.00,166.9 L325.00,167.8 L326.00,168.2 L327.00,167.1 L328.00,167.5 L329.00,168.1 L330.00,167.7 L331.00,167.1 L332.00,168.0 L333.00,168.7 L334.00,168.1 L335.00,168.0 L336.00,168.7 L337.00,168.6 L338.00,168.9 L339.00,169.5 L340.00,168.8 L341.00,169.4 L342.00,170.0 L343.00,169.3 L344.00,169.6 L345.00,169.3 L346.00,169.6 L347.00,169.6 L348.00,170.1 L349.00,170.1 L350.00,170.0 L351.00,171.2 L352.00,171.0 L353.00,170.5 L354.00,171.0 L355.00,171.0 L356.00,170.3 L357.00,171.4 L358.00,170.7 L359.00,171.4 L360.00,171.4 L361.00,171.5 L362.00,171.6 L363.00,171.2 L364.00,170.8 L365.00,171.7 L366.00,171.3 L367.00,171.8 L368.00,171.4 L369.00,171.4 L370.00,172.2 L371.00,172.3 L372.00,172.5 L373.00,172.2 L374.00,172.6 L375.00,172.8 L376.00,172.5 L377.00,171.4 L378.00,172.9 L379.00,172.0 L380.00,172.2 L381.00,172.9 L382.00,173.0 L383.00,173.2 L384.00,173.3 L385.00,173.7 L386.00,173.6 L387.00,173.6 L388.00,173.3 L389.00,172.4 L390.00,173.6 L391.00,173.0 L392.00,174.3 L393.00,173.8 L394.00,174.7 L395.00,174.1 L396.00,174.5 L397.00,174.4 L398.00,173.4 L399.00,174.1 L400.00,174.4 L401.00,173.9 L402.00,174.8 L403.00,175.0 L404.00,175.6 L405.00,174.5 L406.00,175.2 L407.00,175.2 L408.00,174.3 L409.00,175.0 L410.00,175.5 L411.00,175.0 L412.00,175.2 L413.00,174.8 L414.00,175.3 L415.00,175.8 L416.00,175.9 L417.00,176.0 L418.00,176.5 L419.00,176.4 L420.00,176.7 L421.00,176.0 L422.00,176.0 L423.00,175.8 L424.00,176.2 L425.00,176.6 L426.00,176.8 L427.00,177.1 L428.00,177.0 L429.00,177.2 L430.00,177.1 L431.00,177.4 L432.00,177.4 L433.00,177.2 L434.00,177.9 L435.00,177.7 L436.00,177.4 L437.00,177.2 L438.00,178.2 L439.00,178.4 L440.00,178.3 L441.00,177.4 L442.00,177.6 L443.00,178.2 L444.00,178.0 L445.00,178.4 L446.00,177.9 L447.00,178.7 L448.00,177.8 L449.00,179.1 L450.00,177.9 L451.00,178.0 L452.00,178.4 L453.00,178.3 L454.00,179.1 L455.00,178.8 L456.00,179.1 L457.00,179.7 L458.00,178.8 L459.00,179.2 L460.00,179.3 L461.00,179.1 L462.00,179.4 L463.00,179.5 L464.00,178.8 L465.00,180.0 L466.00,180.2 L467.00,180.0 L468.00,180.1 L469.00,180.0 L470.00,179.4 L471.00,179.8 L472.00,180.0 L473.00,179.7 L474.00,180.3 L475.00,179.5 L476.00,180.1 L477.00,180.5 L478.00,180.4 L479.00,180.4 L480.00,181.1 L481.00,179.6 L482.00,181.4 L483.00,181.0 L484.00,180.0 L485.00,181.8 L486.00,181.0 L487.00,181.1 L488.00,181.8 L489.00,182.0 L490.00,181.0 L491.00,180.8 L492.00,180.7 L493.00,182.1 L494.00,181.4 L495.00,181.7 L496.00,182.0 L497.00,182.6 L498.00,182.2 L499.00,183.3 L499.00,185.0 L498.00,184.6 L497.00,184.1 L496.00,184.2 L495.00,183.9 L494.00,184.2 L493.00,184.9 L492.00,184.0 L491.00,184.5 L490.00,184.4 L489.00,183.4 L488.00,183.7 L487.00,183.8 L486.00,184.7 L485.00,183.9 L484.00,184.4 L483.00,183.8 L482.00,183.5 L481.00,183.7 L480.00,183.0 L479.00,183.4 L478.00,183.4 L477.00,183.0 L476.00,182.6 L475.00,182.9 L474.00,182.9 L473.00,182.8 L472.00,183.4 L471.00,182.5 L470.00,183.5 L469.00,182.5 L468.00,181.7 L467.00,182.9 L466.00,182.7 L465.00,182.5 L464.00,183.2 L463.00,183.0 L462.00,181.6 L461.00,182.2 L460.00,182.1 L459.00,181.7 L458.00,182.3 L457.00,181.9 L456.00,181.8 L455.00,181.0 L454.00,181.2 L453.00,182.1 L452.00,181.6 L451.00,181.1 L450.00,181.5 L449.00,180.9 L448.00,181.6 L447.00,181.0 L446.00,180.7 L445.00,180.4 L444.00,180.8 L443.00,181.3 L442.00,180.3 L441.00,180.5 L440.00,180.7 L439.00,180.1 L438.00,180.3 L437.00,181.1 L436.00,180.3 L435.00,179.7 L434.00,179.8 L433.00,180.4 L432.00,179.6 L431.00,180.2 L430.00,179.6 L429.00,179.8 L428.00,179.9 L427.00,179.7 L426.00,181.3 L425.00,179.3 L424.00,179.9 L423.00,178.8 L422.00,180.3 L421.00,179.1 L420.00,179.1 L419.00,178.8 L418.00,178.4 L417.00,178.5 L416.00,178.6 L415.00,178.1 L414.00,178.1 L413.00,177.8 L412.00,178.7 L411.00,178.4 L410.00,177.6 L409.00,177.8 L408.00,178.2 L407.00,177.5 L406.00,178.3 L405.00,177.3 L404.00,177.9 L403.00,177.3 L402.00,177.3 L401.00,177.9 L400.00,176.6 L399.00,177.3 L398.00,176.6 L397.00,176.5 L396.00,176.9 L395.00,177.5 L394.00,176.8 L393.00,176.5 L392.00,175.8 L391.00,175.9 L390.00,175.9 L389.00,175.6 L388.00,175.9 L387.00,175.5 L386.00,176.2 L385.00,175.6 L384.00,175.9 L383.00,176.0 L382.00,175.3 L381.00,176.0 L380.00,176.4 L379.00,175.0 L378.00,175.5 L377.00,174.6 L376.00,175.6 L375.00,175.2 L374.00,174.2 L373.00,174.9 L372.00,174.2 L371.00,175.2 L370.00,175.4 L369.00,174.2 L368.00,173.8 L367.00,174.6 L366.00,173.9 L365.00,173.7 L364.00,174.5 L363.00,173.5 L362.00,174.0 L361.00,174.0 L360.00,174.3 L359.00,173.9 L358.00,173.5 L357.00,173.6 L356.00,173.7 L355.00,173.9 L354.00,173.5 L353.00,173.3 L352.00,173.3 L351.00,173.4 L350.00,173.0 L349.00,172.8 L348.00,173.1 L347.00,173.1 L346.00,171.7 L345.00,172.4 L344.00,171.8 L343.00,171.7 L342.00,171.8 L341.00,171.6 L340.00,172.1 L339.00,171.3 L338.00,172.0 L337.00,171.5 L336.00,171.3 L335.00,170.9 L334.00,170.5 L333.00,171.6 L332.00,171.1 L331.00,170.2 L330.00,170.8 L329.00,170.8 L328.00,170.2 L327.00,169.9 L326.00,171.4 L325.00,170.9 L324.00,170.9 L323.00,169.5 L322.00,170.4 L321.00,169.5 L320.00,170.1 L319.00,169.3 L318.00,170.5 L317.00,169.4 L316.00,169.4 L315.00,168.9 L314.00,169.3 L313.00,169.9 L312.00,169.9 L311.00,169.2 L310.00,169.8 L309.00,168.6 L308.00,168.2 L307.00,168.5 L306.00,168.4 L305.00,168.8 L304.00,168.2 L303.00,167.6 L302.00,168.1 L301.00,168.1 L300.00,167.8 L299.00,168.1 L298.00,168.1 L297.00,167.3 L296.00,166.7 L295.00,167.3 L294.00,168.1 L293.00,167.2 L292.00,166.9 L291.00,166.6 L290.00,167.7 L289.00,166.8 L288.00,166.1 L287.00,166.2 L286.00,167.4 L285.00,166.5 L284.00,167.3 L283.00,166.1 L282.00,165.7 L281.00,165.7 L280.00,165.4 L279.00,165.6 L278.00,165.5 L277.00,165.3 L276.00,165.9 L275.00,165.8 L274.00,165.1 L273.00,165.8 L272.00,165.2 L271.00,165.0 L270.00,164.7 L269.00,164.3 L268.00,164.6 L267.00,164.8 L266.00,164.6 L265.00,164.5 L264.00,164.0 L263.00,155.6 L262.00,155.6 L261.00,155.1 L260.00,155.4 L259.00,154.8 L258.00,155.0 L257.00,155.4 L256.00,155.3 L255.00,154.6 L254.00,154.7 L253.00,154.4 L252.00,154.8 L251.00,153.9 L250.00,155.2 L249.00,154.6 L248.00,153.7 L247.00,154.4 L246.00,153.5 L245.00,154.1 L244.00,154.1 L243.00,153.6 L242.00,153.5 L241.00,153.6 L240.00,153.7 L239.00,152.8 L238.00,154.5 L237.00,152.9 L236.00,153.4 L235.00,153.0 L234.00,152.8 L233.00,153.0 L232.00,153.1 L231.00,152.1 L230.00,152.4 L229.00,152.5 L228.00,152.3 L227.00,152.1 L226.00,152.3 L225.00,151.5 L224.00,152.3 L223.00,151.5 L222.00,150.8 L221.00,151.6 L220.00,151.5 L219.00,152.3 L218.00,151.5 L217.00,152.5 L216.00,151.8 L215.00,152.1 L214.00,150.7 L213.00,151.2 L212.00,150.8 L211.00,150.5 L210.00,151.7 L209.00,150.6 L208.00,150.2 L207.00,151.2 L206.00,150.3 L205.00,149.8 L204.00,150.4 L203.00,149.6 L202.00,149.8 L201.00,149.3 L200.00,150.0 L199.00,149.5 L198.00,149.6 L197.00,148.9 L196.00,149.0 L195.00,149.2 L194.00,148.7 L193.00,148.3 L192.00,148.5 L191.00,149.7 L190.00,148.1 L189.00,148.4 L188.00,148.3 L187.00,147.8 L186.00,148.5 L185.00,147.5 L184.00,148.0 L183.00,148.0 L182.00,147.2 L181.00,147.5 L180.00,148.4 L179.00,147.6 L178.00,147.8 L177.00,147.1 L176.00,146.6 L175.00,148.1 L174.00,146.2 L173.00,146.8 L172.00,146.0 L171.00,146.4 L170.00,146.8 L169.00,147.0 L168.00,145.8 L167.00,146.6 L166.00,146.4 L165.00,146.8 L164.00,145.7 L163.00,145.8 L162.00,145.5 L161.00,145.3 L160.00,145.2 L159.00,145.4 L158.00,145.5 L157.00,145.1 L156.00,144.6 L155.00,144.5 L154.00,144.4 L153.00,145.3 L152.00,144.7 L151.00,145.2 L150.00,143.6 L149.00,144.1 L148.00,143.5 L147.00,145.1 L146.00,144.3 L145.00,143.8 L144.00,144.3 L143.00,144.0 L142.00,143.2 L141.00,143.9 L140.00,142.8 L139.00,143.0 L138.00,143.7 L137.00,142.7 L136.00,141.8 L135.00,143.3 L134.00,141.5 L133.00,141.7 L132.00,141.7 L131.00,141.6 L130.00,141.3 L129.00,141.5 L128.00,141.8 L127.00,141.7 L126.00,141.2 L125.00,141.5 L124.00,141.1 L123.00,141.3 L122.00,140.9 L121.00,140.7 L120.00,141.2 L119.00,140.1 L118.00,141.4 L117.00,140.8 L116.00,140.7 L115.00,139.7 L114.00,139.9 L113.00,139.8 L112.00,140.0 L111.00,140.2 L110.00,139.2 L109.00,139.5 L108.00,138.3 L107.00,138.7 L106.00,138.5 L105.00,137.7 L104.00,138.5 L103.00,137.4 L102.00,137.7 L101.00,136.9 L100.00,138.1 L99.00,137.3 L98.00,136.1 L97.00,137.2 L96.00,136.5 L95.00,136.2 L94.00,136.1 L93.00,136.8 L92.00,135.9 L91.00,135.0 L90.00,135.1 L89.00,134.0 L88.00,133.0 L87.00,131.9 L86.00,131.7 L85.00,132.7 L84.00,132.5 L83.00,132.3 L82.00,131.3 L81.00,131.1 L80.00,131.7 L79.00,131.1 L78.00,131.3 L77.00,130.8 L76.00,130.5 L75.00,131.5 L74.00,130.2 L73.00,130.9 L72.00,130.8 L71.00,129.7 L70.00,130.3 L69.00,130.2 L68.00,130.5 L67.00,130.2 L66.00,130.5 L65.00,129.1 L64.00,129.7 L63.00,129.6 L62.00,128.9 L61.00,128.5 L60.00,128.8 L59.00,128.6 L58.00,128.5 L57.00,128.6 L56.00,128.8 L55.00,128.1 L54.00,128.7 L53.00,127.4 L52.00,127.6 L51.00,128.2 L50.00,127.7 L49.00,126.8Z" fill="#0072BD" stroke="#0072BD" stroke-width="2" stroke-linejoin="round" clip-path="url(#c2)"/>
<path d="M49.00,150.5 L50.00,147.8 L51.00,148.9 L52.00,146.3 L53.00,147.7 L54.00,149.4 L55.00,149.0 L56.00,148.9 L57.00,148.0 L58.00,145.2 L59.00,147.5 L60.00,151.9 L61.00,150.8 L62.00,145.6 L63.00,149.6 L64.00,149.4 L65.00,148.8 L66.00,147.2 L67.00,148.1 L68.00,149.6 L69.00,148.9 L70.00,148.4 L71.00,149.7 L72.00,149.7 L73.00,149.8 L74.00,145.8 L75.00,149.4 L76.00,148.1 L77.00,149.3 L78.00,148.6 L79.00,145.5 L80.00,149.5 L81.00,147.0 L82.00,147.5 L83.00,148.1 L84.00,148.5 L85.00,145.0 L86.00,150.0 L87.00,148.9 L88.00,146.9 L89.00,147.7 L90.00,149.3 L91.00,148.1 L92.00,144.9 L93.00,149.8 L94.00,149.3 L95.00,150.3 L96.00,148.6 L97.00,150.0 L98.00,147.6 L99.00,148.7 L100.00,149.4 L101.00,150.9 L102.00,149.1 L103.00,149.3 L104.00,149.5 L105.00,148.2 L106.00,143.5 L107.00,150.4 L108.00,147.9 L109.00,146.1 L110.00,148.7 L111.00,148.2 L112.00,147.7 L113.00,148.5 L114.00,147.6 L115.00,146.6 L116.00,149.6 L117.00,146.8 L118.00,150.4 L119.00,150.5 L120.00,150.2 L121.00,146.3 L122.00,148.7 L123.00,148.4 L124.00,149.1 L125.00,149.9 L126.00,148.3 L127.00,147.9 L128.00,149.3 L129.00,146.4 L130.00,149.6 L131.00,150.4 L132.00,150.4 L133.00,147.7 L134.00,150.3 L135.00,149.0 L136.00,149.4 L137.00,149.2 L138.00,142.9 L139.00,147.4 L140.00,148.9 L141.00,147.9 L142.00,147.7 L143.00,151.5 L144.00,149.8 L145.00,150.5 L146.00,149.6 L147.00,149.1 L148.00,148.5 L149.00,148.9 L150.00,150.4 L151.00,149.0 L152.00,149.2 L153.00,147.7 L154.00,150.7 L155.00,148.7 L156.00,146.6 L157.00,148.2 L158.00,149.8 L159.00,144.8 L160.00,149.4 L161.00,148.8 L162.00,149.1 L163.00,147.7 L164.00,147.7 L165.00,149.5 L166.00,148.6 L167.00,149.2 L168.00,147.0 L169.00,147.3 L170.00,149.5 L171.00,149.8 L172.00,149.9 L173.00,149.2 L174.00,148.9 L175.00,148.7 L176.00,146.3 L177.00,151.0 L178.00,149.0 L179.00,149.2 L180.00,149.0 L181.00,149.9 L182.00,150.5 L183.00,150.1 L184.00,148.5 L185.00,149.0 L186.00,149.4 L187.00,147.9 L188.00,146.5 L189.00,147.9 L190.00,149.4 L191.00,149.5 L192.00,148.9 L193.00,149.6 L194.00,153.1 L195.00,147.7 L196.00,149.7 L197.00,145.2 L198.00,149.1 L199.00,150.0 L200.00,151.7 L201.00,148.4 L202.00,148.1 L203.00,149.4 L204.00,148.4 L205.00,148.5 L206.00,148.2 L207.00,150.9 L208.00,147.8 L209.00,144.9 L210.00,147.0 L211.00,147.4 L212.00,149.0 L213.00,150.0 L214.00,149.1 L215.00,146.6 L216.00,149.7 L217.00,148.5 L218.00,147.6 L219.00,150.5 L220.00,144.6 L221.00,147.4 L222.00,148.3 L223.00,147.7 L224.00,149.3 L225.00,149.5 L226.00,149.6 L227.00,148.6 L228.00,150.4 L229.00,149.6 L230.00,150.8 L231.00,148.6 L232.00,148.8 L233.00,149.1 L234.00,149.7 L235.00,148.8 L236.00,148.5 L237.00,148.4 L238.00,150.4 L239.00,148.4 L240.00,148.8 L241.00,146.8 L242.00,149.0 L243.00,149.3 L244.00,148.6 L245.00,146.6 L246.00,149.7 L247.00,149.4 L248.00,145.8 L249.00,149.3 L250.00,148.9 L251.00,147.6 L252.00,146.8 L253.00,151.3 L254.00,149.5 L255.00,150.1 L256.00,150.5 L257.00,148.2 L258.00,150.3 L259.00,149.1 L260.00,150.3 L261.00,149.2 L262.00,148.5 L263.00,148.8 L264.00,146.4 L265.00,150.6 L266.00,145.9 L267.00,150.9 L268.00,149.4 L269.00,149.0 L270.00,148.5 L271.00,149.2 L272.00,149.5 L273.00,151.5 L274.00,148.6 L275.00,147.8 L276.00,148.2 L277.00,149.0 L278.00,149.4 L279.00,147.9 L280.00,149.6 L281.00,149.4 L282.00,149.6 L283.00,146.5 L284.00,151.2 L285.00,148.3 L286.00,150.8 L287.00,150.0 L288.00,147.0 L289.00,149.8 L290.00,148.9 L291.00,147.0 L292.00,147.7 L293.00,148.8 L294.00,146.8 L295.00,149.7 L296.00,148.7 L297.00,148.6 L298.00,148.3 L299.00,149.8 L300.00,148.8 L301.00,149.9 L302.00,146.1 L303.00,149.4 L304.00,149.6 L305.00,150.3 L306.00,151.6 L307.00,149.6 L308.00,149.0 L309.00,147.7 L310.00,149.2 L311.00,148.6 L312.00,148.9 L313.00,150.9 L314.00,147.3 L315.00,150.2 L316.00,149.6 L317.00,149.2 L318.00,149.0 L319.00,149.4 L320.00,148.1 L321.00,149.4 L322.00,148.4 L323.00,148.9 L324.00,148.9 L325.00,149.1 L326.00,148.5 L327.00,147.7 L328.00,149.7 L329.00,149.2 L330.00,150.2 L331.00,147.8 L332.00,148.7 L333.00,148.3 L334.00,145.5 L335.00,147.3 L336.00,149.1 L337.00,149.5 L338.00,150.8 L339.00,147.8 L340.00,149.9 L341.00,147.5 L342.00,148.9 L343.00,144.3 L344.00,149.3 L345.00,147.3 L346.00,147.1 L347.00,146.1 L348.00,148.1 L349.00,149.2 L350.00,148.0 L351.00,148.3 L352.00,146.9 L353.00,148.8 L354.00,150.4 L355.00,148.9 L356.00,147.5 L357.00,146.2 L358.00,149.2 L359.00,148.8 L360.00,148.1 L361.00,150.3 L362.00,149.1 L363.00,150.6 L364.00,149.7 L365.00,148.6 L366.00,150.4 L367.00,147.6 L368.00,148.7 L369.00,150.3 L370.00,149.9 L371.00,147.4 L372.00,148.6 L373.00,147.0 L374.00,148.8 L375.00,147.4 L376.00,148.2 L377.00,148.0 L378.00,150.2 L379.00,148.4 L380.00,147.5 L381.00,145.4 L382.00,147.1 L383.00,148.5 L384.00,147.8 L385.00,149.9 L386.00,148.8 L387.00,148.6 L388.00,150.1 L389.00,148.3 L390.00,148.5 L391.00,147.1 L392.00,148.7 L393.00,150.2 L394.00,149.4 L395.00,148.5 L396.00,147.8 L397.00,149.5 L398.00,147.4 L399.00,148.3 L400.00,149.2 L401.00,148.8 L402.00,149.4 L403.00,147.6 L404.00,148.9 L405.00,148.8 L406.00,149.3 L407.00,148.1 L408.00,148.3 L409.00,148.8 L410.00,149.6 L411.00,149.6 L412.00,146.2 L413.00,147.9 L414.00,148.0 L415.00,148.1 L416.00,147.5 L417.00,146.5 L418.00,149.3 L419.00,147.0 L420.00,149.9 L421.00,149.0 L422.00,149.2 L423.00,148.1 L424.00,149.6 L425.00,147.3 L426.00,146.5 L427.00,149.5 L428.00,145.5 L429.00,150.1 L430.00,149.8 L431.00,149.5 L432.00,148.4 L433.00,147.3 L434.00,148.4 L435.00,149.6 L436.00,148.2 L437.00,149.1 L438.00,148.6 L439.00,147.5 L440.00,148.3 L441.00,148.0 L442.00,148.8 L443.00,149.3 L444.00,145.9 L445.00,151.8 L446.00,150.1 L447.00,149.1 L448.00,146.9 L449.00,150.0 L450.00,150.5 L451.00,149.7 L452.00,149.1 L453.00,148.7 L454.00,149.0 L455.00,148.0 L456.00,148.7 L457.00,148.3 L458.00,150.2 L459.00,147.8 L460.00,148.5 L461.00,149.9 L462.00,145.8 L463.00,149.7 L464.00,147.2 L465.00,149.0 L466.00,148.4 L467.00,148.1 L468.00,145.8 L469.00,148.1 L470.00,147.8 L471.00,147.0 L472.00,145.5 L473.00,149.2 L474.00,151.4 L475.00,147.8 L476.00,148.5 L477.00,148.6 L478.00,146.9 L479.00,151.2 L480.00,149.1 L481.00,148.3 L482.00,149.3 L483.00,147.8 L484.00,149.2 L485.00,149.8 L486.00,149.8 L487.00,148.9 L488.00,150.8 L489.00,148.0 L490.00,149.5 L491.00,149.0 L492.00,149.5 L493.00,148.7 L494.00,151.6 L495.00,149.7 L496.00,148.5 L497.00,149.9 L498.00,148.1 L499.00,147.9 L499.00,156.9 L498.00,157.6 L497.00,156.6 L496.00,155.5 L495.00,157.5 L494.00,158.3 L493.00,161.4 L492.00,158.6 L491.00,159.6 L490.00,155.7 L489.00,157.0 L488.00,157.5 L487.00,158.2 L486.00,157.8 L485.00,158.3 L484.00,156.9 L483.00,156.8 L482.00,156.4 L481.00,157.5 L480.00,156.6 L479.00,157.9 L478.00,157.6 L477.00,157.5 L476.00,156.8 L475.00,160.5 L474.00,157.5 L473.00,156.7 L472.00,156.1 L471.00,157.0 L470.00,156.6 L469.00,156.6 L468.00,157.8 L467.00,157.7 L466.00,157.1 L465.00,158.6 L464.00,159.5 L463.00,155.8 L462.00,157.2 L461.00,156.7 L460.00,155.5 L459.00,153.6 L458.00,157.2 L457.00,156.3 L456.00,156.6 L455.00,157.0 L454.00,158.2 L453.00,159.2 L452.00,158.9 L451.00,160.7 L450.00,159.1 L449.00,160.7 L448.00,160.0 L447.00,157.8 L446.00,156.9 L445.00,156.7 L444.00,157.4 L443.00,155.9 L442.00,160.8 L441.00,158.4 L440.00,157.8 L439.00,156.4 L438.00,156.5 L437.00,157.2 L436.00,156.6 L435.00,156.3 L434.00,158.1 L433.00,158.7 L432.00,158.9 L431.00,158.6 L430.00,157.4 L429.00,157.8 L428.00,156.3 L427.00,156.2 L426.00,157.8 L425.00,157.7 L424.00,158.9 L423.00,156.2 L422.00,155.2 L421.00,158.8 L420.00,160.3 L419.00,156.6 L418.00,155.8 L417.00,156.9 L416.00,156.2 L415.00,158.3 L414.00,159.2 L413.00,158.1 L412.00,157.8 L411.00,158.5 L410.00,157.5 L409.00,158.8 L408.00,157.4 L407.00,155.7 L406.00,158.0 L405.00,157.6 L404.00,156.5 L403.00,157.5 L402.00,156.0 L401.00,157.5 L400.00,158.6 L399.00,156.2 L398.00,157.6 L397.00,156.8 L396.00,158.2 L395.00,157.0 L394.00,159.1 L393.00,159.8 L392.00,157.5 L391.00,156.9 L390.00,158.0 L389.00,156.1 L388.00,161.8 L387.00,158.5 L386.00,155.4 L385.00,157.1 L384.00,159.2 L383.00,157.2 L382.00,158.0 L381.00,155.7 L380.00,158.4 L379.00,158.4 L378.00,155.9 L377.00,158.7 L376.00,155.8 L375.00,154.5 L374.00,158.6 L373.00,158.3 L372.00,158.4 L371.00,159.9 L370.00,156.1 L369.00,158.8 L368.00,157.8 L367.00,159.0 L366.00,157.6 L365.00,156.9 L364.00,157.0 L363.00,157.2 L362.00,158.0 L361.00,157.4 L360.00,157.0 L359.00,157.3 L358.00,157.1 L357.00,158.1 L356.00,156.5 L355.00,162.5 L354.00,156.8 L353.00,157.1 L352.00,158.5 L351.00,159.8 L350.00,159.8 L349.00,157.0 L348.00,158.3 L347.00,156.3 L346.00,156.8 L345.00,157.2 L344.00,156.4 L343.00,155.5 L342.00,156.1 L341.00,157.1 L340.00,158.9 L339.00,158.4 L338.00,158.1 L337.00,159.6 L336.00,158.1 L335.00,158.3 L334.00,159.9 L333.00,157.3 L332.00,156.9 L331.00,157.6 L330.00,157.3 L329.00,157.4 L328.00,157.7 L327.00,159.4 L326.00,157.1 L325.00,156.8 L324.00,157.2 L323.00,158.3 L322.00,161.5 L321.00,155.6 L320.00,158.4 L319.00,158.5 L318.00,156.7 L317.00,159.8 L316.00,157.0 L315.00,155.1 L314.00,156.6 L313.00,158.0 L312.00,158.7 L311.00,157.9 L310.00,156.7 L309.00,157.1 L308.00,158.4 L307.00,157.2 L306.00,157.1 L305.00,158.1 L304.00,158.1 L303.00,156.3 L302.00,157.1 L301.00,157.3 L300.00,156.6 L299.00,159.6 L298.00,156.9 L297.00,158.2 L296.00,159.5 L295.00,156.8 L294.00,159.8 L293.00,159.2 L292.00,158.0 L291.00,158.0 L290.00,159.3 L289.00,156.9 L288.00,157.8 L287.00,158.0 L286.00,157.8 L285.00,157.7 L284.00,158.5 L283.00,157.5 L282.00,156.9 L281.00,158.8 L280.00,157.1 L279.00,157.0 L278.00,157.0 L277.00,157.0 L276.00,158.8 L275.00,158.0 L274.00,156.7 L273.00,158.1 L272.00,156.7 L271.00,160.5 L270.00,156.3 L269.00,156.6 L268.00,155.4 L267.00,157.9 L266.00,156.3 L265.00,160.0 L264.00,156.9 L263.00,155.4 L262.00,159.2 L261.00,159.3 L260.00,158.3 L259.00,158.2 L258.00,158.2 L257.00,158.1 L256.00,157.3 L255.00,156.4 L254.00,157.7 L253.00,158.9 L252.00,155.7 L251.00,156.9 L250.00,157.4 L249.00,156.6 L248.00,157.7 L247.00,158.2 L246.00,158.6 L245.00,157.1 L244.00,159.4 L243.00,158.4 L242.00,156.6 L241.00,158.5 L240.00,158.0 L239.00,156.4 L238.00,157.6 L237.00,157.6 L236.00,158.3 L235.00,158.6 L234.00,155.7 L233.00,159.3 L232.00,158.9 L231.00,155.6 L230.00,156.5 L229.00,159.1 L228.00,158.2 L227.00,159.7 L226.00,155.9 L225.00,158.2 L224.00,156.2 L223.00,155.8 L222.00,154.8 L221.00,156.9 L220.00,156.1 L219.00,156.8 L218.00,158.8 L217.00,157.7 L216.00,158.2 L215.00,156.8 L214.00,157.2 L213.00,158.6 L212.00,158.5 L211.00,159.0 L210.00,155.2 L209.00,159.8 L208.00,159.3 L207.00,155.9 L206.00,156.6 L205.00,157.7 L204.00,156.9 L203.00,156.6 L202.00,155.9 L201.00,155.8 L200.00,156.9 L199.00,157.0 L198.00,157.8 L197.00,156.4 L196.00,155.6 L195.00,159.1 L194.00,157.5 L193.00,157.7 L192.00,158.9 L191.00,157.1 L190.00,158.7 L189.00,156.6 L188.00,158.2 L187.00,159.3 L186.00,157.2 L185.00,160.1 L184.00,158.5 L183.00,158.8 L182.00,158.6 L181.00,157.6 L180.00,160.9 L179.00,160.7 L178.00,157.2 L177.00,158.8 L176.00,156.7 L175.00,157.0 L174.00,156.6 L173.00,156.5 L172.00,157.7 L171.00,158.5 L170.00,156.5 L169.00,158.5 L168.00,155.6 L167.00,156.5 L166.00,156.4 L165.00,158.1 L164.00,157.8 L163.00,158.4 L162.00,157.9 L161.00,156.5 L160.00,155.2 L159.00,157.1 L158.00,159.2 L157.00,157.1 L156.00,157.6 L155.00,158.1 L154.00,157.6 L153.00,155.5 L152.00,157.7 L151.00,157.9 L150.00,156.6 L149.00,158.2 L148.00,160.2 L147.00,159.4 L146.00,160.6 L145.00,156.8 L144.00,158.2 L143.00,157.0 L142.00,157.7 L141.00,157.3 L140.00,158.8 L139.00,160.0 L138.00,157.0 L137.00,157.3 L136.00,157.6 L135.00,158.6 L134.00,156.6 L133.00,157.8 L132.00,157.2 L131.00,158.3 L130.00,156.8 L129.00,158.3 L128.00,155.4 L127.00,154.3 L126.00,156.8 L125.00,158.5 L124.00,156.4 L123.00,157.4 L122.00,156.2 L121.00,157.7 L120.00,155.6 L119.00,159.7 L118.00,156.6 L117.00,155.7 L116.00,156.9 L115.00,156.0 L114.00,158.6 L113.00,155.3 L112.00,158.8 L111.00,155.7 L110.00,159.0 L109.00,156.8 L108.00,155.4 L107.00,155.2 L106.00,156.0 L105.00,156.5 L104.00,158.0 L103.00,158.3 L102.00,159.9 L101.00,156.6 L100.00,157.8 L99.00,157.8 L98.00,155.0 L97.00,159.4 L96.00,155.8 L95.00,155.9 L94.00,156.7 L93.00,157.9 L92.00,157.6 L91.00,157.6 L90.00,156.6 L89.00,156.8 L88.00,157.6 L87.00,157.9 L86.00,157.3 L85.00,157.4 L84.00,157.1 L83.00,155.9 L82.00,156.6 L81.00,159.1 L80.00,158.7 L79.00,158.3 L78.00,160.7 L77.00,156.2 L76.00,159.1 L75.00,158.4 L74.00,155.7 L73.00,156.8 L72.00,156.7 L71.00,156.0 L70.00,157.5 L69.00,157.8 L68.00,158.6 L67.00,156.9 L66.00,157.3 L65.00,157.9 L64.00,156.0 L63.00,155.9 L62.00,157.4 L61.00,158.0 L60.00,159.1 L59.00,158.3 L58.00,158.2 L57.00,158.7 L56.00,159.0 L55.00,157.2 L54.00,157.5 L53.00,158.3 L52.00,157.9 L51.00,157.0 L50.00,156.9 L49.00,157.9Z" fill="#D95319" stroke="#D95319" stroke-width="2" stroke-linejoin="round" clip-path="url(#c2)"/>
<line x1="48.0" y1="124.5" x2="501.0" y2="124.5" stroke="#3c3c3c" stroke-width="1"/>
<line x1="48.0" y1="185.5" x2="501.0" y2="185.5" stroke="#3c3c3c" stroke-width="1"/>
<text x="48.5" y="197.3" font-size="9.2" text-anchor="middle" class="k">0</text>
<line x1="111.5" y1="185.5" x2="111.5" y2="181.0" stroke="#3c3c3c" stroke-width="1"/>
<line x1="111.5" y1="124.5" x2="111.5" y2="129.0" stroke="#3c3c3c" stroke-width="1"/>
<text x="111.3" y="197.3" font-size="9.2" text-anchor="middle" class="k">500</text>
<line x1="174.5" y1="185.5" x2="174.5" y2="181.0" stroke="#3c3c3c" stroke-width="1"/>
<line x1="174.5" y1="124.5" x2="174.5" y2="129.0" stroke="#3c3c3c" stroke-width="1"/>
<text x="174.1" y="197.3" font-size="9.2" text-anchor="middle" class="k">1000</text>
<line x1="236.5" y1="185.5" x2="236.5" y2="181.0" stroke="#3c3c3c" stroke-width="1"/>
<line x1="236.5" y1="124.5" x2="236.5" y2="129.0" stroke="#3c3c3c" stroke-width="1"/>
<text x="236.8" y="197.3" font-size="9.2" text-anchor="middle" class="k">1500</text>
<line x1="299.5" y1="185.5" x2="299.5" y2="181.0" stroke="#3c3c3c" stroke-width="1"/>
<line x1="299.5" y1="124.5" x2="299.5" y2="129.0" stroke="#3c3c3c" stroke-width="1"/>
<text x="299.6" y="197.3" font-size="9.2" text-anchor="middle" class="k">2000</text>
<line x1="362.5" y1="185.5" x2="362.5" y2="181.0" stroke="#3c3c3c" stroke-width="1"/>
<line x1="362.5" y1="124.5" x2="362.5" y2="129.0" stroke="#3c3c3c" stroke-width="1"/>
<text x="362.4" y="197.3" font-size="9.2" text-anchor="middle" class="k">2500</text>
<line x1="425.5" y1="185.5" x2="425.5" y2="181.0" stroke="#3c3c3c" stroke-width="1"/>
<line x1="425.5" y1="124.5" x2="425.5" y2="129.0" stroke="#3c3c3c" stroke-width="1"/>
<text x="425.2" y="197.3" font-size="9.2" text-anchor="middle" class="k">3000</text>
<line x1="487.5" y1="185.5" x2="487.5" y2="181.0" stroke="#3c3c3c" stroke-width="1"/>
<line x1="487.5" y1="124.5" x2="487.5" y2="129.0" stroke="#3c3c3c" stroke-width="1"/>
<text x="487.9" y="197.3" font-size="9.2" text-anchor="middle" class="k">3500</text>
<line x1="48.5" y1="124.0" x2="48.5" y2="186.0" stroke="#0072BD" stroke-width="1"/>
<line x1="500.5" y1="124.0" x2="500.5" y2="186.0" stroke="#D95319" stroke-width="1"/>
<line x1="48.5" y1="144.5" x2="53.0" y2="144.5" stroke="#0072BD" stroke-width="1"/>
<text x="45.0" y="147.5" font-size="9.15" text-anchor="end" class="b">-2.58</text>
<line x1="48.5" y1="174.5" x2="53.0" y2="174.5" stroke="#0072BD" stroke-width="1"/>
<text x="45.0" y="177.5" font-size="9.15" text-anchor="end" class="b">-2.6</text>
<line x1="500.5" y1="139.5" x2="496.0" y2="139.5" stroke="#D95319" stroke-width="1"/>
<text x="502.8" y="142.3" font-size="9.15" class="o">0.02</text>
<line x1="500.5" y1="177.5" x2="496.0" y2="177.5" stroke="#D95319" stroke-width="1"/>
<text x="502.8" y="180.3" font-size="9.15" class="o">0.015</text>
<text transform="translate(17.5,155.0) rotate(-90)" font-size="10.3" text-anchor="middle" class="b">ZRO (°/s)</text>
<text transform="translate(538.9,155.0) rotate(-90)" font-size="10.3" text-anchor="middle" class="o">ZRO (°/s)</text>
<text x="274.5" y="120.7" font-size="10" text-anchor="middle" class="z">Gyro#2</text>
<text x="274.5" y="211.2" font-size="10.2" text-anchor="middle" class="k">Time (s)</text>
<rect x="365.8" y="129.6" width="125.7" height="25.1" fill="#fff" stroke="#262626" stroke-width="1"/>
<line x1="369.3" y1="136.5" x2="402.3" y2="136.5" stroke="#0072BD" stroke-width="2.6"/>
<line x1="369.3" y1="148.0" x2="402.3" y2="148.0" stroke="#D95319" stroke-width="2.6"/>
<text x="405.7" y="140.29999999999998" font-size="8.45" class="z">Before Compensation</text>
<text x="405.7" y="151.4" font-size="8.45" class="z">After Compensation</text>
</g>
<g>
<clipPath id="c3"><rect x="49.0" y="229.5" width="451.0" height="61.0"/></clipPath>
<line x1="111.5" y1="229.5" x2="111.5" y2="290.5" stroke="#6c6c6c" stroke-width="1"/>
<line x1="174.5" y1="229.5" x2="174.5" y2="290.5" stroke="#6c6c6c" stroke-width="1"/>
<line x1="236.5" y1="229.5" x2="236.5" y2="290.5" stroke="#6c6c6c" stroke-width="1"/>
<line x1="299.5" y1="229.5" x2="299.5" y2="290.5" stroke="#6c6c6c" stroke-width="1"/>
<line x1="362.5" y1="229.5" x2="362.5" y2="290.5" stroke="#6c6c6c" stroke-width="1"/>
<line x1="425.5" y1="229.5" x2="425.5" y2="290.5" stroke="#6c6c6c" stroke-width="1"/>
<line x1="487.5" y1="229.5" x2="487.5" y2="290.5" stroke="#6c6c6c" stroke-width="1"/>
<line x1="48.5" y1="266.5" x2="500.5" y2="266.5" stroke="#0072BD" stroke-opacity="0.6" stroke-width="1"/>
<path d="M49.00,238.3 L50.00,238.6 L51.00,237.9 L52.00,239.7 L53.00,238.6 L54.00,237.6 L55.00,238.2 L56.00,239.8 L57.00,239.5 L58.00,238.6 L59.00,239.3 L60.00,238.2 L61.00,240.5 L62.00,241.4 L63.00,239.2 L64.00,241.6 L65.00,242.3 L66.00,242.3 L67.00,241.5 L68.00,240.8 L69.00,241.2 L70.00,239.3 L71.00,242.4 L72.00,241.8 L73.00,242.5 L74.00,243.1 L75.00,243.7 L76.00,242.9 L77.00,243.1 L78.00,242.2 L79.00,241.9 L80.00,242.8 L81.00,243.4 L82.00,241.9 L83.00,243.4 L84.00,242.7 L85.00,245.5 L86.00,246.0 L87.00,245.4 L88.00,245.5 L89.00,244.2 L90.00,244.8 L91.00,244.5 L92.00,245.8 L93.00,244.8 L94.00,246.6 L95.00,246.6 L96.00,247.8 L97.00,246.7 L98.00,246.5 L99.00,246.2 L100.00,248.4 L101.00,246.9 L102.00,246.3 L103.00,247.7 L104.00,248.3 L105.00,248.3 L106.00,247.7 L107.00,249.5 L108.00,248.3 L109.00,247.0 L110.00,247.9 L111.00,247.9 L112.00,248.9 L113.00,249.6 L114.00,248.2 L115.00,251.2 L116.00,251.0 L117.00,248.8 L118.00,250.2 L119.00,249.1 L120.00,251.3 L121.00,250.1 L122.00,249.9 L123.00,249.7 L124.00,249.9 L125.00,251.4 L126.00,250.2 L127.00,251.0 L128.00,251.7 L129.00,249.4 L130.00,250.7 L131.00,251.9 L132.00,252.2 L133.00,250.4 L134.00,252.0 L135.00,251.9 L136.00,252.1 L137.00,252.8 L138.00,253.9 L139.00,252.8 L140.00,251.8 L141.00,251.3 L142.00,253.0 L143.00,252.1 L144.00,254.6 L145.00,253.2 L146.00,253.0 L147.00,254.1 L148.00,253.7 L149.00,254.2 L150.00,254.4 L151.00,254.8 L152.00,252.7 L153.00,255.6 L154.00,253.2 L155.00,253.6 L156.00,253.8 L157.00,253.4 L158.00,254.9 L159.00,254.8 L160.00,254.6 L161.00,252.9 L162.00,256.0 L163.00,254.1 L164.00,254.5 L165.00,255.0 L166.00,254.9 L167.00,256.2 L168.00,254.4 L169.00,256.1 L170.00,254.4 L171.00,257.1 L172.00,256.9 L173.00,255.5 L174.00,257.2 L175.00,256.4 L176.00,256.1 L177.00,257.6 L178.00,257.9 L179.00,258.4 L180.00,258.5 L181.00,256.5 L182.00,259.6 L183.00,258.5 L184.00,257.1 L185.00,255.3 L186.00,257.6 L187.00,258.4 L188.00,259.8 L189.00,260.1 L190.00,259.2 L191.00,259.0 L192.00,256.3 L193.00,259.1 L194.00,260.8 L195.00,260.5 L196.00,259.5 L197.00,259.0 L198.00,259.8 L199.00,259.0 L200.00,259.6 L201.00,260.6 L202.00,260.5 L203.00,260.4 L204.00,261.7 L205.00,262.0 L206.00,260.3 L207.00,261.0 L208.00,259.8 L209.00,261.6 L210.00,261.1 L211.00,262.6 L212.00,260.9 L213.00,263.6 L214.00,261.9 L215.00,262.3 L216.00,262.0 L217.00,262.8 L218.00,263.8 L219.00,262.0 L220.00,262.4 L221.00,263.5 L222.00,264.6 L223.00,262.9 L224.00,262.4 L225.00,264.0 L226.00,264.3 L227.00,264.7 L228.00,264.6 L229.00,263.2 L230.00,263.7 L231.00,264.7 L232.00,264.4 L233.00,264.7 L234.00,263.8 L235.00,266.0 L236.00,263.8 L237.00,265.7 L238.00,264.4 L239.00,265.7 L240.00,265.3 L241.00,266.5 L242.00,266.0 L243.00,265.8 L244.00,267.2 L245.00,265.8 L246.00,268.4 L247.00,267.1 L248.00,266.9 L249.00,267.1 L250.00,268.1 L251.00,268.2 L252.00,265.4 L253.00,267.5 L254.00,266.6 L255.00,266.4 L256.00,267.4 L257.00,267.7 L258.00,267.3 L259.00,269.2 L260.00,268.7 L261.00,269.7 L262.00,268.9 L263.00,269.4 L264.00,270.1 L265.00,269.3 L266.00,267.8 L267.00,269.6 L268.00,270.3 L269.00,267.3 L270.00,269.3 L271.00,269.0 L272.00,268.6 L273.00,270.6 L274.00,270.2 L275.00,268.3 L276.00,269.1 L277.00,269.7 L278.00,270.2 L279.00,269.1 L280.00,270.5 L281.00,271.9 L282.00,270.9 L283.00,270.6 L284.00,270.3 L285.00,268.5 L286.00,270.9 L287.00,271.1 L288.00,272.1 L289.00,273.0 L290.00,270.2 L291.00,272.4 L292.00,271.1 L293.00,272.5 L294.00,272.1 L295.00,272.2 L296.00,272.4 L297.00,273.7 L298.00,274.2 L299.00,274.0 L300.00,270.7 L301.00,270.2 L302.00,273.1 L303.00,275.0 L304.00,273.5 L305.00,274.9 L306.00,275.3 L307.00,275.3 L308.00,274.5 L309.00,273.8 L310.00,274.2 L311.00,271.4 L312.00,274.2 L313.00,274.9 L314.00,274.7 L315.00,275.2 L316.00,274.2 L317.00,276.5 L318.00,273.5 L319.00,274.6 L320.00,274.2 L321.00,273.5 L322.00,275.1 L323.00,274.1 L324.00,276.7 L325.00,273.6 L326.00,274.9 L327.00,275.2 L328.00,275.3 L329.00,274.1 L330.00,274.2 L331.00,272.9 L332.00,276.6 L333.00,275.7 L334.00,275.9 L335.00,273.4 L336.00,273.7 L337.00,274.1 L338.00,277.1 L339.00,274.7 L340.00,275.5 L341.00,276.2 L342.00,275.4 L343.00,276.6 L344.00,275.9 L345.00,274.8 L346.00,275.1 L347.00,276.4 L348.00,274.3 L349.00,275.8 L350.00,277.1 L351.00,277.2 L352.00,275.2 L353.00,275.6 L354.00,277.1 L355.00,275.9 L356.00,275.6 L357.00,276.2 L358.00,275.2 L359.00,275.5 L360.00,276.4 L361.00,276.7 L362.00,276.2 L363.00,276.0 L364.00,275.5 L365.00,278.4 L366.00,276.5 L367.00,278.2 L368.00,277.1 L369.00,278.5 L370.00,274.4 L371.00,278.4 L372.00,277.4 L373.00,278.1 L374.00,278.6 L375.00,278.5 L376.00,277.7 L377.00,279.0 L378.00,277.7 L379.00,274.5 L380.00,277.9 L381.00,277.9 L382.00,278.0 L383.00,274.9 L384.00,279.7 L385.00,278.9 L386.00,279.3 L387.00,278.9 L388.00,278.4 L389.00,278.5 L390.00,278.4 L391.00,277.3 L392.00,278.5 L393.00,277.2 L394.00,279.7 L395.00,279.4 L396.00,279.1 L397.00,280.0 L398.00,278.5 L399.00,279.5 L400.00,278.2 L401.00,279.6 L402.00,280.6 L403.00,278.4 L404.00,278.1 L405.00,280.5 L406.00,280.6 L407.00,278.7 L408.00,280.3 L409.00,281.6 L410.00,280.8 L411.00,280.0 L412.00,277.4 L413.00,280.7 L414.00,280.0 L415.00,281.0 L416.00,280.8 L417.00,281.4 L418.00,279.8 L419.00,279.4 L420.00,281.4 L421.00,280.1 L422.00,281.3 L423.00,280.8 L424.00,281.9 L425.00,282.2 L426.00,280.1 L427.00,281.4 L428.00,280.5 L429.00,281.4 L430.00,281.9 L431.00,281.0 L432.00,280.7 L433.00,277.7 L434.00,280.1 L435.00,280.8 L436.00,282.1 L437.00,281.8 L438.00,281.1 L439.00,281.8 L440.00,280.4 L441.00,280.0 L442.00,280.6 L443.00,279.9 L444.00,281.1 L445.00,281.6 L446.00,281.7 L447.00,280.9 L448.00,281.2 L449.00,280.9 L450.00,281.3 L451.00,282.9 L452.00,281.8 L453.00,281.2 L454.00,280.0 L455.00,282.5 L456.00,281.5 L457.00,282.6 L458.00,281.1 L459.00,279.2 L460.00,281.6 L461.00,282.3 L462.00,281.6 L463.00,283.6 L464.00,281.7 L465.00,281.3 L466.00,280.7 L467.00,283.3 L468.00,281.7 L469.00,281.3 L470.00,282.0 L471.00,281.5 L472.00,282.8 L473.00,281.6 L474.00,282.1 L475.00,284.4 L476.00,283.1 L477.00,283.9 L478.00,282.9 L479.00,282.7 L480.00,284.5 L481.00,283.3 L482.00,283.9 L483.00,283.5 L484.00,283.9 L485.00,279.9 L486.00,285.1 L487.00,281.2 L488.00,284.1 L489.00,282.4 L490.00,284.3 L491.00,285.2 L492.00,283.3 L493.00,282.7 L494.00,283.6 L495.00,283.3 L496.00,283.3 L497.00,283.7 L498.00,284.0 L499.00,284.4 L499.00,288.6 L498.00,288.5 L497.00,289.6 L496.00,290.0 L495.00,290.0 L494.00,289.3 L493.00,288.5 L492.00,290.0 L491.00,289.8 L490.00,290.0 L489.00,290.0 L488.00,290.0 L487.00,290.0 L486.00,289.7 L485.00,289.2 L484.00,290.0 L483.00,290.0 L482.00,286.9 L481.00,288.7 L480.00,289.9 L479.00,289.8 L478.00,290.0 L477.00,289.2 L476.00,289.2 L475.00,290.0 L474.00,287.9 L473.00,288.8 L472.00,290.0 L471.00,288.7 L470.00,287.5 L469.00,288.1 L468.00,287.2 L467.00,290.0 L466.00,290.0 L465.00,288.8 L464.00,288.7 L463.00,289.0 L462.00,288.1 L461.00,288.1 L460.00,286.8 L459.00,286.6 L458.00,286.7 L457.00,288.7 L456.00,287.8 L455.00,287.8 L454.00,287.7 L453.00,287.0 L452.00,286.7 L451.00,289.5 L450.00,289.8 L449.00,287.7 L448.00,289.1 L447.00,288.5 L446.00,286.6 L445.00,288.2 L444.00,288.6 L443.00,287.4 L442.00,287.6 L441.00,286.5 L440.00,287.9 L439.00,287.6 L438.00,287.8 L437.00,286.8 L436.00,285.8 L435.00,285.7 L434.00,287.5 L433.00,286.5 L432.00,285.5 L431.00,288.0 L430.00,286.1 L429.00,287.4 L428.00,285.1 L427.00,288.3 L426.00,287.2 L425.00,288.5 L424.00,285.9 L423.00,286.2 L422.00,286.0 L421.00,286.2 L420.00,288.2 L419.00,286.3 L418.00,287.7 L417.00,285.4 L416.00,287.6 L415.00,287.0 L414.00,285.3 L413.00,286.5 L412.00,285.8 L411.00,286.5 L410.00,284.7 L409.00,285.2 L408.00,285.8 L407.00,286.5 L406.00,286.5 L405.00,285.0 L404.00,285.1 L403.00,285.3 L402.00,286.4 L401.00,284.2 L400.00,283.3 L399.00,287.3 L398.00,284.6 L397.00,286.6 L396.00,286.5 L395.00,285.6 L394.00,285.4 L393.00,285.3 L392.00,285.6 L391.00,283.5 L390.00,284.4 L389.00,285.4 L388.00,284.5 L387.00,284.6 L386.00,284.3 L385.00,286.4 L384.00,286.9 L383.00,285.5 L382.00,285.0 L381.00,284.5 L380.00,284.8 L379.00,285.7 L378.00,283.6 L377.00,284.0 L376.00,283.6 L375.00,283.0 L374.00,283.1 L373.00,284.2 L372.00,281.4 L371.00,283.2 L370.00,284.0 L369.00,285.5 L368.00,284.8 L367.00,284.9 L366.00,284.8 L365.00,283.1 L364.00,283.8 L363.00,284.1 L362.00,281.2 L361.00,284.5 L360.00,281.3 L359.00,283.0 L358.00,282.0 L357.00,282.0 L356.00,283.2 L355.00,282.1 L354.00,282.4 L353.00,282.0 L352.00,280.7 L351.00,282.6 L350.00,283.9 L349.00,284.5 L348.00,282.4 L347.00,281.6 L346.00,282.5 L345.00,281.2 L344.00,282.0 L343.00,281.2 L342.00,281.7 L341.00,281.8 L340.00,282.0 L339.00,282.5 L338.00,282.5 L337.00,280.3 L336.00,281.1 L335.00,281.9 L334.00,281.6 L333.00,280.8 L332.00,281.9 L331.00,281.3 L330.00,283.8 L329.00,280.7 L328.00,282.5 L327.00,280.2 L326.00,280.8 L325.00,281.0 L324.00,281.0 L323.00,281.2 L322.00,281.5 L321.00,281.2 L320.00,280.2 L319.00,280.5 L318.00,279.5 L317.00,279.5 L316.00,278.6 L315.00,280.5 L314.00,280.1 L313.00,280.6 L312.00,279.2 L311.00,279.8 L310.00,280.0 L309.00,279.7 L308.00,279.4 L307.00,278.8 L306.00,280.6 L305.00,279.6 L304.00,279.4 L303.00,278.9 L302.00,279.1 L301.00,280.1 L300.00,279.1 L299.00,280.4 L298.00,280.4 L297.00,279.5 L296.00,280.1 L295.00,279.5 L294.00,277.4 L293.00,276.9 L292.00,280.3 L291.00,279.1 L290.00,278.4 L289.00,279.5 L288.00,277.0 L287.00,278.1 L286.00,278.4 L285.00,276.7 L284.00,278.2 L283.00,278.9 L282.00,276.7 L281.00,276.0 L280.00,275.3 L279.00,278.0 L278.00,276.7 L277.00,277.4 L276.00,274.7 L275.00,276.0 L274.00,276.4 L273.00,276.9 L272.00,275.4 L271.00,274.4 L270.00,274.6 L269.00,275.0 L268.00,275.9 L267.00,274.1 L266.00,275.4 L265.00,276.6 L264.00,274.6 L263.00,273.4 L262.00,274.3 L261.00,275.7 L260.00,274.6 L259.00,276.5 L258.00,275.3 L257.00,274.9 L256.00,273.7 L255.00,272.5 L254.00,273.4 L253.00,272.9 L252.00,272.5 L251.00,274.0 L250.00,272.2 L249.00,273.6 L248.00,273.9 L247.00,273.4 L246.00,271.6 L245.00,273.7 L244.00,272.5 L243.00,272.6 L242.00,273.2 L241.00,271.6 L240.00,271.5 L239.00,271.4 L238.00,271.3 L237.00,272.3 L236.00,271.7 L235.00,273.6 L234.00,271.9 L233.00,270.9 L232.00,270.3 L231.00,269.5 L230.00,269.1 L229.00,270.9 L228.00,271.8 L227.00,270.2 L226.00,271.2 L225.00,271.2 L224.00,269.4 L223.00,269.3 L222.00,271.3 L221.00,269.2 L220.00,269.4 L219.00,268.4 L218.00,269.3 L217.00,268.8 L216.00,268.7 L215.00,268.9 L214.00,267.9 L213.00,269.6 L212.00,269.4 L211.00,268.3 L210.00,267.5 L209.00,267.7 L208.00,268.8 L207.00,265.6 L206.00,266.6 L205.00,266.1 L204.00,268.3 L203.00,266.2 L202.00,267.8 L201.00,267.1 L200.00,266.0 L199.00,267.8 L198.00,266.0 L197.00,265.7 L196.00,264.9 L195.00,265.8 L194.00,265.6 L193.00,264.4 L192.00,266.0 L191.00,264.4 L190.00,265.9 L189.00,264.4 L188.00,264.4 L187.00,264.4 L186.00,265.1 L185.00,264.1 L184.00,263.5 L183.00,262.8 L182.00,262.0 L181.00,264.1 L180.00,262.3 L179.00,263.6 L178.00,262.5 L177.00,260.9 L176.00,260.8 L175.00,262.1 L174.00,262.2 L173.00,261.2 L172.00,261.6 L171.00,261.9 L170.00,262.0 L169.00,260.5 L168.00,260.9 L167.00,262.5 L166.00,261.4 L165.00,261.7 L164.00,261.4 L163.00,261.4 L162.00,260.5 L161.00,259.8 L160.00,260.0 L159.00,262.4 L158.00,257.9 L157.00,262.5 L156.00,260.6 L155.00,260.2 L154.00,261.0 L153.00,259.9 L152.00,259.2 L151.00,260.5 L150.00,260.2 L149.00,258.2 L148.00,260.8 L147.00,259.6 L146.00,258.9 L145.00,259.8 L144.00,259.8 L143.00,259.1 L142.00,257.0 L141.00,257.6 L140.00,259.1 L139.00,259.7 L138.00,258.9 L137.00,257.6 L136.00,257.6 L135.00,256.8 L134.00,257.8 L133.00,257.4 L132.00,257.2 L131.00,257.2 L130.00,256.7 L129.00,258.6 L128.00,257.8 L127.00,255.1 L126.00,258.6 L125.00,256.9 L124.00,256.3 L123.00,258.0 L122.00,256.8 L121.00,257.3 L120.00,258.1 L119.00,255.1 L118.00,256.9 L117.00,256.8 L116.00,256.0 L115.00,255.1 L114.00,255.0 L113.00,255.3 L112.00,254.7 L111.00,254.6 L110.00,255.2 L109.00,254.5 L108.00,255.0 L107.00,254.1 L106.00,254.6 L105.00,256.0 L104.00,255.5 L103.00,253.2 L102.00,252.6 L101.00,252.7 L100.00,252.1 L99.00,253.3 L98.00,252.1 L97.00,252.8 L96.00,252.3 L95.00,252.8 L94.00,252.1 L93.00,251.0 L92.00,249.3 L91.00,249.7 L90.00,251.3 L89.00,250.3 L88.00,251.6 L87.00,251.4 L86.00,252.0 L85.00,251.8 L84.00,249.4 L83.00,249.3 L82.00,249.1 L81.00,250.4 L80.00,250.7 L79.00,249.0 L78.00,248.2 L77.00,251.3 L76.00,249.4 L75.00,248.2 L74.00,249.2 L73.00,247.7 L72.00,248.1 L71.00,247.8 L70.00,245.3 L69.00,246.4 L68.00,246.0 L67.00,247.4 L66.00,247.0 L65.00,247.0 L64.00,245.9 L63.00,245.5 L62.00,246.9 L61.00,247.7 L60.00,246.7 L59.00,245.6 L58.00,245.3 L57.00,245.3 L56.00,244.6 L55.00,243.8 L54.00,244.6 L53.00,245.4 L52.00,245.4 L51.00,243.8 L50.00,244.6 L49.00,243.9Z" fill="#0072BD" stroke="#0072BD" stroke-width="2" stroke-linejoin="round" clip-path="url(#c3)"/>
<path d="M49.00,258.8 L50.00,260.2 L51.00,258.5 L52.00,258.4 L53.00,259.4 L54.00,258.9 L55.00,259.7 L56.00,259.4 L57.00,258.0 L58.00,261.5 L59.00,259.4 L60.00,261.5 L61.00,261.4 L62.00,261.7 L63.00,261.9 L64.00,261.7 L65.00,258.7 L66.00,257.9 L67.00,259.8 L68.00,258.6 L69.00,260.2 L70.00,258.8 L71.00,260.3 L72.00,257.4 L73.00,259.9 L74.00,260.7 L75.00,258.9 L76.00,260.1 L77.00,259.6 L78.00,259.2 L79.00,260.3 L80.00,260.4 L81.00,259.8 L82.00,258.9 L83.00,258.7 L84.00,260.3 L85.00,261.1 L86.00,260.3 L87.00,259.0 L88.00,261.1 L89.00,261.2 L90.00,260.2 L91.00,262.0 L92.00,259.7 L93.00,259.3 L94.00,261.2 L95.00,260.3 L96.00,261.2 L97.00,260.9 L98.00,260.6 L99.00,259.6 L100.00,258.2 L101.00,258.5 L102.00,258.9 L103.00,257.1 L104.00,258.7 L105.00,260.6 L106.00,260.3 L107.00,258.8 L108.00,261.6 L109.00,259.1 L110.00,262.6 L111.00,260.6 L112.00,259.5 L113.00,259.2 L114.00,259.3 L115.00,259.9 L116.00,257.8 L117.00,262.2 L118.00,261.4 L119.00,260.5 L120.00,260.5 L121.00,257.4 L122.00,257.8 L123.00,260.5 L124.00,260.0 L125.00,261.0 L126.00,258.9 L127.00,260.2 L128.00,259.4 L129.00,260.9 L130.00,258.6 L131.00,257.9 L132.00,261.5 L133.00,260.4 L134.00,260.5 L135.00,261.2 L136.00,259.1 L137.00,260.5 L138.00,261.9 L139.00,260.9 L140.00,259.6 L141.00,260.1 L142.00,259.5 L143.00,262.1 L144.00,260.3 L145.00,259.3 L146.00,260.7 L147.00,258.7 L148.00,261.2 L149.00,259.3 L150.00,259.9 L151.00,259.4 L152.00,259.3 L153.00,257.9 L154.00,258.5 L155.00,260.2 L156.00,259.6 L157.00,262.2 L158.00,262.3 L159.00,260.6 L160.00,260.6 L161.00,259.5 L162.00,258.7 L163.00,260.7 L164.00,261.7 L165.00,258.7 L166.00,261.5 L167.00,261.8 L168.00,260.6 L169.00,259.3 L170.00,261.2 L171.00,258.9 L172.00,259.9 L173.00,259.1 L174.00,257.5 L175.00,258.7 L176.00,259.9 L177.00,262.6 L178.00,261.3 L179.00,260.4 L180.00,259.0 L181.00,261.5 L182.00,261.9 L183.00,261.4 L184.00,259.0 L185.00,260.6 L186.00,259.0 L187.00,259.7 L188.00,259.0 L189.00,259.5 L190.00,259.1 L191.00,260.0 L192.00,261.4 L193.00,260.7 L194.00,259.5 L195.00,259.3 L196.00,260.0 L197.00,260.4 L198.00,261.7 L199.00,259.5 L200.00,259.4 L201.00,261.9 L202.00,260.7 L203.00,258.6 L204.00,260.9 L205.00,258.5 L206.00,260.1 L207.00,262.5 L208.00,258.8 L209.00,259.9 L210.00,259.7 L211.00,256.9 L212.00,257.1 L213.00,259.6 L214.00,257.5 L215.00,259.6 L216.00,258.1 L217.00,257.8 L218.00,257.4 L219.00,259.1 L220.00,258.9 L221.00,261.1 L222.00,259.4 L223.00,261.3 L224.00,259.3 L225.00,259.5 L226.00,260.4 L227.00,261.6 L228.00,260.5 L229.00,260.1 L230.00,262.3 L231.00,259.5 L232.00,260.4 L233.00,259.2 L234.00,258.8 L235.00,259.0 L236.00,261.0 L237.00,262.5 L238.00,260.1 L239.00,262.0 L240.00,260.1 L241.00,261.9 L242.00,260.0 L243.00,261.6 L244.00,260.4 L245.00,263.1 L246.00,258.9 L247.00,259.9 L248.00,260.8 L249.00,259.5 L250.00,259.8 L251.00,261.1 L252.00,259.0 L253.00,261.9 L254.00,256.9 L255.00,259.1 L256.00,259.3 L257.00,259.8 L258.00,259.4 L259.00,260.2 L260.00,262.1 L261.00,261.3 L262.00,260.2 L263.00,260.1 L264.00,261.0 L265.00,260.2 L266.00,261.8 L267.00,259.8 L268.00,259.0 L269.00,260.9 L270.00,260.4 L271.00,259.3 L272.00,256.4 L273.00,261.6 L274.00,259.8 L275.00,258.0 L276.00,260.9 L277.00,256.7 L278.00,259.2 L279.00,260.4 L280.00,259.9 L281.00,259.2 L282.00,260.0 L283.00,261.7 L284.00,259.1 L285.00,260.4 L286.00,259.9 L287.00,258.9 L288.00,259.7 L289.00,260.4 L290.00,257.8 L291.00,260.1 L292.00,261.0 L293.00,262.1 L294.00,262.6 L295.00,258.5 L296.00,260.9 L297.00,259.5 L298.00,260.2 L299.00,259.9 L300.00,260.5 L301.00,256.9 L302.00,259.6 L303.00,258.3 L304.00,261.5 L305.00,259.1 L306.00,261.3 L307.00,260.5 L308.00,259.9 L309.00,259.7 L310.00,256.9 L311.00,258.9 L312.00,259.1 L313.00,260.8 L314.00,260.9 L315.00,259.1 L316.00,261.2 L317.00,259.2 L318.00,261.2 L319.00,260.6 L320.00,260.1 L321.00,261.0 L322.00,261.2 L323.00,263.9 L324.00,257.9 L325.00,261.3 L326.00,259.6 L327.00,261.3 L328.00,257.6 L329.00,257.7 L330.00,259.5 L331.00,258.1 L332.00,261.3 L333.00,258.9 L334.00,261.8 L335.00,259.6 L336.00,261.6 L337.00,259.1 L338.00,260.0 L339.00,260.0 L340.00,261.2 L341.00,261.4 L342.00,260.6 L343.00,260.0 L344.00,260.7 L345.00,260.4 L346.00,260.1 L347.00,258.0 L348.00,259.7 L349.00,262.7 L350.00,262.2 L351.00,257.1 L352.00,260.2 L353.00,255.5 L354.00,261.1 L355.00,260.5 L356.00,259.4 L357.00,260.7 L358.00,260.0 L359.00,260.6 L360.00,261.4 L361.00,260.4 L362.00,262.1 L363.00,257.8 L364.00,261.0 L365.00,259.4 L366.00,261.1 L367.00,258.8 L368.00,259.3 L369.00,260.1 L370.00,259.8 L371.00,259.6 L372.00,259.5 L373.00,258.5 L374.00,258.3 L375.00,261.1 L376.00,260.9 L377.00,258.7 L378.00,260.3 L379.00,262.2 L380.00,260.9 L381.00,259.1 L382.00,257.7 L383.00,257.8 L384.00,261.7 L385.00,262.5 L386.00,259.2 L387.00,261.1 L388.00,261.3 L389.00,259.9 L390.00,258.0 L391.00,257.0 L392.00,260.4 L393.00,261.7 L394.00,260.4 L395.00,261.1 L396.00,262.1 L397.00,260.8 L398.00,260.3 L399.00,261.7 L400.00,260.1 L401.00,258.1 L402.00,259.3 L403.00,260.4 L404.00,260.7 L405.00,260.2 L406.00,260.1 L407.00,260.3 L408.00,257.9 L409.00,261.0 L410.00,259.0 L411.00,261.3 L412.00,258.5 L413.00,259.8 L414.00,257.8 L415.00,261.1 L416.00,261.3 L417.00,260.1 L418.00,260.9 L419.00,259.2 L420.00,259.7 L421.00,260.9 L422.00,260.9 L423.00,260.4 L424.00,258.5 L425.00,258.5 L426.00,260.0 L427.00,259.7 L428.00,259.4 L429.00,259.9 L430.00,257.5 L431.00,257.9 L432.00,260.8 L433.00,260.6 L434.00,261.7 L435.00,261.2 L436.00,260.0 L437.00,261.2 L438.00,260.8 L439.00,261.2 L440.00,262.0 L441.00,259.1 L442.00,260.8 L443.00,259.6 L444.00,257.2 L445.00,259.9 L446.00,259.6 L447.00,261.0 L448.00,257.6 L449.00,258.9 L450.00,259.8 L451.00,261.2 L452.00,261.4 L453.00,259.1 L454.00,260.2 L455.00,258.6 L456.00,259.7 L457.00,259.2 L458.00,259.1 L459.00,260.1 L460.00,258.0 L461.00,261.4 L462.00,261.4 L463.00,258.5 L464.00,260.5 L465.00,260.9 L466.00,256.7 L467.00,261.1 L468.00,259.1 L469.00,259.1 L470.00,261.0 L471.00,259.4 L472.00,258.5 L473.00,260.6 L474.00,260.2 L475.00,260.6 L476.00,259.0 L477.00,261.2 L478.00,262.0 L479.00,259.9 L480.00,259.5 L481.00,258.2 L482.00,260.4 L483.00,258.8 L484.00,259.5 L485.00,260.9 L486.00,260.5 L487.00,261.2 L488.00,259.5 L489.00,259.5 L490.00,260.7 L491.00,258.0 L492.00,260.2 L493.00,260.2 L494.00,257.7 L495.00,261.2 L496.00,261.7 L497.00,258.3 L498.00,258.6 L499.00,262.3 L499.00,266.2 L498.00,267.6 L497.00,267.5 L496.00,269.3 L495.00,268.6 L494.00,269.8 L493.00,269.8 L492.00,266.3 L491.00,271.3 L490.00,268.8 L489.00,267.7 L488.00,267.6 L487.00,270.2 L486.00,267.6 L485.00,268.9 L484.00,268.3 L483.00,269.4 L482.00,267.9 L481.00,269.1 L480.00,267.9 L479.00,268.3 L478.00,268.6 L477.00,265.7 L476.00,269.5 L475.00,267.9 L474.00,266.8 L473.00,269.8 L472.00,268.8 L471.00,268.2 L470.00,268.1 L469.00,267.9 L468.00,267.0 L467.00,269.8 L466.00,267.7 L465.00,267.8 L464.00,272.1 L463.00,268.2 L462.00,268.5 L461.00,268.0 L460.00,266.5 L459.00,269.3 L458.00,269.7 L457.00,267.8 L456.00,267.7 L455.00,268.8 L454.00,270.5 L453.00,268.1 L452.00,269.9 L451.00,267.5 L450.00,265.9 L449.00,266.3 L448.00,269.5 L447.00,270.5 L446.00,267.2 L445.00,268.1 L444.00,267.1 L443.00,269.3 L442.00,267.6 L441.00,267.8 L440.00,268.2 L439.00,269.8 L438.00,273.4 L437.00,269.8 L436.00,267.1 L435.00,267.8 L434.00,266.6 L433.00,270.8 L432.00,268.3 L431.00,266.2 L430.00,266.7 L429.00,267.9 L428.00,268.7 L427.00,270.4 L426.00,266.1 L425.00,269.8 L424.00,269.5 L423.00,267.6 L422.00,269.6 L421.00,268.3 L420.00,267.2 L419.00,267.2 L418.00,268.2 L417.00,267.3 L416.00,268.3 L415.00,267.7 L414.00,268.2 L413.00,266.9 L412.00,268.1 L411.00,268.3 L410.00,269.9 L409.00,268.7 L408.00,267.9 L407.00,266.7 L406.00,268.3 L405.00,269.5 L404.00,268.9 L403.00,268.1 L402.00,269.5 L401.00,268.4 L400.00,267.1 L399.00,267.6 L398.00,268.4 L397.00,269.5 L396.00,269.3 L395.00,268.0 L394.00,269.8 L393.00,269.8 L392.00,268.2 L391.00,268.7 L390.00,267.1 L389.00,267.3 L388.00,269.2 L387.00,268.6 L386.00,268.2 L385.00,269.2 L384.00,268.8 L383.00,267.4 L382.00,268.3 L381.00,265.9 L380.00,267.7 L379.00,268.8 L378.00,265.6 L377.00,267.8 L376.00,267.4 L375.00,266.3 L374.00,269.9 L373.00,267.7 L372.00,268.1 L371.00,270.4 L370.00,269.4 L369.00,267.2 L368.00,268.3 L367.00,270.8 L366.00,269.0 L365.00,268.0 L364.00,269.3 L363.00,268.6 L362.00,268.8 L361.00,269.7 L360.00,268.1 L359.00,268.1 L358.00,269.6 L357.00,267.5 L356.00,269.6 L355.00,267.4 L354.00,267.8 L353.00,268.0 L352.00,267.4 L351.00,268.6 L350.00,269.4 L349.00,268.2 L348.00,268.8 L347.00,266.0 L346.00,269.1 L345.00,267.9 L344.00,268.7 L343.00,269.5 L342.00,268.8 L341.00,266.6 L340.00,267.3 L339.00,269.8 L338.00,267.5 L337.00,268.8 L336.00,269.9 L335.00,266.0 L334.00,267.4 L333.00,270.5 L332.00,267.9 L331.00,269.2 L330.00,266.8 L329.00,272.9 L328.00,266.7 L327.00,269.1 L326.00,268.2 L325.00,271.3 L324.00,268.0 L323.00,269.0 L322.00,270.0 L321.00,268.6 L320.00,269.9 L319.00,267.4 L318.00,267.8 L317.00,266.6 L316.00,269.1 L315.00,270.2 L314.00,267.7 L313.00,268.8 L312.00,269.7 L311.00,267.9 L310.00,268.1 L309.00,268.8 L308.00,268.6 L307.00,268.4 L306.00,268.9 L305.00,270.4 L304.00,271.1 L303.00,267.4 L302.00,267.5 L301.00,271.4 L300.00,267.7 L299.00,269.8 L298.00,268.9 L297.00,269.7 L296.00,271.6 L295.00,267.0 L294.00,267.6 L293.00,267.8 L292.00,270.6 L291.00,268.4 L290.00,269.7 L289.00,269.0 L288.00,268.3 L287.00,270.2 L286.00,270.4 L285.00,272.2 L284.00,269.6 L283.00,270.4 L282.00,268.5 L281.00,268.7 L280.00,266.9 L279.00,268.1 L278.00,269.2 L277.00,269.8 L276.00,267.2 L275.00,268.9 L274.00,267.8 L273.00,270.8 L272.00,268.1 L271.00,270.7 L270.00,266.5 L269.00,267.8 L268.00,267.8 L267.00,267.5 L266.00,269.2 L265.00,266.9 L264.00,268.9 L263.00,269.2 L262.00,269.0 L261.00,267.9 L260.00,269.5 L259.00,267.3 L258.00,268.2 L257.00,270.4 L256.00,268.8 L255.00,271.4 L254.00,269.0 L253.00,269.9 L252.00,268.9 L251.00,268.1 L250.00,269.9 L249.00,267.9 L248.00,265.9 L247.00,267.7 L246.00,269.5 L245.00,268.3 L244.00,268.1 L243.00,268.6 L242.00,270.8 L241.00,270.7 L240.00,267.5 L239.00,267.9 L238.00,269.5 L237.00,269.0 L236.00,268.7 L235.00,267.0 L234.00,267.3 L233.00,268.5 L232.00,270.0 L231.00,269.0 L230.00,268.0 L229.00,268.8 L228.00,267.3 L227.00,270.8 L226.00,269.2 L225.00,267.9 L224.00,269.4 L223.00,269.7 L222.00,269.4 L221.00,265.3 L220.00,267.6 L219.00,269.2 L218.00,266.5 L217.00,270.3 L216.00,268.5 L215.00,269.2 L214.00,267.5 L213.00,270.7 L212.00,269.3 L211.00,268.5 L210.00,266.8 L209.00,271.5 L208.00,267.2 L207.00,268.3 L206.00,268.2 L205.00,269.0 L204.00,269.8 L203.00,269.2 L202.00,266.1 L201.00,268.3 L200.00,267.9 L199.00,267.6 L198.00,270.5 L197.00,268.7 L196.00,269.9 L195.00,271.0 L194.00,271.4 L193.00,268.0 L192.00,270.4 L191.00,269.3 L190.00,268.0 L189.00,267.8 L188.00,270.0 L187.00,267.7 L186.00,269.5 L185.00,267.6 L184.00,269.1 L183.00,268.4 L182.00,269.0 L181.00,267.7 L180.00,269.2 L179.00,266.8 L178.00,271.6 L177.00,271.1 L176.00,268.9 L175.00,267.7 L174.00,267.2 L173.00,266.8 L172.00,269.8 L171.00,270.3 L170.00,268.3 L169.00,269.5 L168.00,269.9 L167.00,267.4 L166.00,269.2 L165.00,271.3 L164.00,267.8 L163.00,268.6 L162.00,271.0 L161.00,267.8 L160.00,268.8 L159.00,271.0 L158.00,268.8 L157.00,266.2 L156.00,270.4 L155.00,268.6 L154.00,269.0 L153.00,268.2 L152.00,268.0 L151.00,269.9 L150.00,269.3 L149.00,270.8 L148.00,267.4 L147.00,269.2 L146.00,266.6 L145.00,267.9 L144.00,267.7 L143.00,268.8 L142.00,265.8 L141.00,268.5 L140.00,267.4 L139.00,269.7 L138.00,269.4 L137.00,268.2 L136.00,269.1 L135.00,270.0 L134.00,270.0 L133.00,269.6 L132.00,267.0 L131.00,269.3 L130.00,267.9 L129.00,265.7 L128.00,268.9 L127.00,267.9 L126.00,269.0 L125.00,266.2 L124.00,267.7 L123.00,269.1 L122.00,268.5 L121.00,269.2 L120.00,267.7 L119.00,268.7 L118.00,268.3 L117.00,268.6 L116.00,269.0 L115.00,267.8 L114.00,270.8 L113.00,266.7 L112.00,270.7 L111.00,267.0 L110.00,270.9 L109.00,268.0 L108.00,268.0 L107.00,268.6 L106.00,267.7 L105.00,268.7 L104.00,269.4 L103.00,268.1 L102.00,267.7 L101.00,267.1 L100.00,268.5 L99.00,265.5 L98.00,268.6 L97.00,269.0 L96.00,270.0 L95.00,268.2 L94.00,266.9 L93.00,268.3 L92.00,267.9 L91.00,268.5 L90.00,268.3 L89.00,268.8 L88.00,269.8 L87.00,267.9 L86.00,269.4 L85.00,267.3 L84.00,268.6 L83.00,269.5 L82.00,267.3 L81.00,266.6 L80.00,268.7 L79.00,267.9 L78.00,270.4 L77.00,269.8 L76.00,268.1 L75.00,268.4 L74.00,268.9 L73.00,266.7 L72.00,268.7 L71.00,268.2 L70.00,268.9 L69.00,267.8 L68.00,267.9 L67.00,268.5 L66.00,270.1 L65.00,271.1 L64.00,266.6 L63.00,267.3 L62.00,270.2 L61.00,267.9 L60.00,268.8 L59.00,269.5 L58.00,268.5 L57.00,271.9 L56.00,268.3 L55.00,268.7 L54.00,269.4 L53.00,269.8 L52.00,267.2 L51.00,268.9 L50.00,269.6 L49.00,268.7Z" fill="#D95319" stroke="#D95319" stroke-width="2" stroke-linejoin="round" clip-path="url(#c3)"/>
<line x1="48.0" y1="229.5" x2="501.0" y2="229.5" stroke="#3c3c3c" stroke-width="1"/>
<line x1="48.0" y1="290.5" x2="501.0" y2="290.5" stroke="#3c3c3c" stroke-width="1"/>
<text x="48.5" y="302.3" font-size="9.2" text-anchor="middle" class="k">0</text>
<line x1="111.5" y1="290.5" x2="111.5" y2="286.0" stroke="#3c3c3c" stroke-width="1"/>
<line x1="111.5" y1="229.5" x2="111.5" y2="234.0" stroke="#3c3c3c" stroke-width="1"/>
<text x="111.3" y="302.3" font-size="9.2" text-anchor="middle" class="k">500</text>
<line x1="174.5" y1="290.5" x2="174.5" y2="286.0" stroke="#3c3c3c" stroke-width="1"/>
<line x1="174.5" y1="229.5" x2="174.5" y2="234.0" stroke="#3c3c3c" stroke-width="1"/>
<text x="174.1" y="302.3" font-size="9.2" text-anchor="middle" class="k">1000</text>
<line x1="236.5" y1="290.5" x2="236.5" y2="286.0" stroke="#3c3c3c" stroke-width="1"/>
<line x1="236.5" y1="229.5" x2="236.5" y2="234.0" stroke="#3c3c3c" stroke-width="1"/>
<text x="236.8" y="302.3" font-size="9.2" text-anchor="middle" class="k">1500</text>
<line x1="299.5" y1="290.5" x2="299.5" y2="286.0" stroke="#3c3c3c" stroke-width="1"/>
<line x1="299.5" y1="229.5" x2="299.5" y2="234.0" stroke="#3c3c3c" stroke-width="1"/>
<text x="299.6" y="302.3" font-size="9.2" text-anchor="middle" class="k">2000</text>
<line x1="362.5" y1="290.5" x2="362.5" y2="286.0" stroke="#3c3c3c" stroke-width="1"/>
<line x1="362.5" y1="229.5" x2="362.5" y2="234.0" stroke="#3c3c3c" stroke-width="1"/>
<text x="362.4" y="302.3" font-size="9.2" text-anchor="middle" class="k">2500</text>
<line x1="425.5" y1="290.5" x2="425.5" y2="286.0" stroke="#3c3c3c" stroke-width="1"/>
<line x1="425.5" y1="229.5" x2="425.5" y2="234.0" stroke="#3c3c3c" stroke-width="1"/>
<text x="425.2" y="302.3" font-size="9.2" text-anchor="middle" class="k">3000</text>
<line x1="487.5" y1="290.5" x2="487.5" y2="286.0" stroke="#3c3c3c" stroke-width="1"/>
<line x1="487.5" y1="229.5" x2="487.5" y2="234.0" stroke="#3c3c3c" stroke-width="1"/>
<text x="487.9" y="302.3" font-size="9.2" text-anchor="middle" class="k">3500</text>
<line x1="48.5" y1="229.0" x2="48.5" y2="291.0" stroke="#0072BD" stroke-width="1"/>
<line x1="500.5" y1="229.0" x2="500.5" y2="291.0" stroke="#D95319" stroke-width="1"/>
<line x1="48.5" y1="229.5" x2="53.0" y2="229.5" stroke="#0072BD" stroke-width="1"/>
<text x="45.0" y="232.5" font-size="9.15" text-anchor="end" class="b">-2.64</text>
<line x1="48.5" y1="266.5" x2="53.0" y2="266.5" stroke="#0072BD" stroke-width="1"/>
<text x="45.0" y="269.5" font-size="9.15" text-anchor="end" class="b">-2.65</text>
<line x1="500.5" y1="229.5" x2="496.0" y2="229.5" stroke="#D95319" stroke-width="1"/>
<text x="502.8" y="232.3" font-size="9.15" class="o">4</text>
<line x1="500.5" y1="244.75" x2="496.0" y2="244.75" stroke="#D95319" stroke-width="1"/>
<text x="502.8" y="247.55" font-size="9.15" class="o">2</text>
<line x1="500.5" y1="260" x2="496.0" y2="260" stroke="#D95319" stroke-width="1"/>
<text x="502.8" y="262.8" font-size="9.15" class="o">0</text>
<line x1="500.5" y1="275.25" x2="496.0" y2="275.25" stroke="#D95319" stroke-width="1"/>
<text x="502.8" y="278.05" font-size="9.15" class="o">-2</text>
<line x1="500.5" y1="290.5" x2="496.0" y2="290.5" stroke="#D95319" stroke-width="1"/>
<text x="502.8" y="293.3" font-size="9.15" class="o">-4</text>
<text x="502.0" y="225.2" font-size="9.6" class="o">×<tspan dx="0.6">10</tspan><tspan dx="0.9" dy="-3.9" font-size="7">-3</tspan></text>
<text transform="translate(17.5,260.0) rotate(-90)" font-size="10.3" text-anchor="middle" class="b">ZRO (°/s)</text>
<text transform="translate(525.1,260.0) rotate(-90)" font-size="10.3" text-anchor="middle" class="o">ZRO (°/s)</text>
<text x="274.5" y="225.7" font-size="10" text-anchor="middle" class="z">Gyro#3</text>
<text x="274.5" y="316.2" font-size="10.2" text-anchor="middle" class="k">Time (s)</text>
<rect x="365.8" y="234.5" width="125.7" height="25.1" fill="#fff" stroke="#262626" stroke-width="1"/>
<line x1="369.3" y1="241.4" x2="402.3" y2="241.4" stroke="#0072BD" stroke-width="2.6"/>
<line x1="369.3" y1="252.9" x2="402.3" y2="252.9" stroke="#D95319" stroke-width="2.6"/>
<text x="405.7" y="245.2" font-size="8.45" class="z">Before Compensation</text>
<text x="405.7" y="256.3" font-size="8.45" class="z">After Compensation</text>
</g>
</svg>
</body></html>
